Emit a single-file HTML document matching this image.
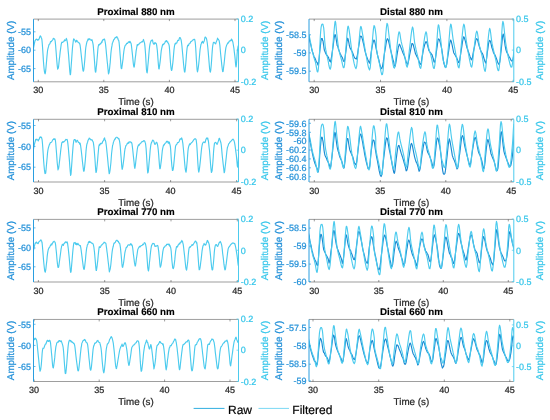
<!DOCTYPE html>
<html><head><meta charset="utf-8"><title>Figure</title>
<style>
html,body{margin:0;padding:0;background:#fff;}
svg{display:block;}
text{text-rendering:geometricPrecision;font-family:"Liberation Sans",Arial,Helvetica,sans-serif;stroke-width:0.22px;paint-order:stroke;}
.t{font-size:9px;}
.l{font-size:9.8px;}
.ti{font-size:9.75px;font-weight:bold;fill:#000;stroke:#000;stroke-width:0.15px;}
.lg{font-size:12px;fill:#000;stroke:#000;stroke-width:0.2px;}
</style></head>
<body>
<svg width="550" height="420" viewBox="0 0 550 420">
<rect width="550" height="420" fill="#fff"/>
<clipPath id="c00"><rect x="33.5" y="19.1" width="205" height="62.7"/></clipPath>
<g clip-path="url(#c00)" fill="none" stroke-width="1.15" stroke-linejoin="round"><polyline points="33.3,49.03 33.59,47.76 34.02,45.4 34.48,43.13 34.9,41.19 35.23,40.33 35.53,40.09 35.84,39.35 36.2,39.39 36.63,39.16 37.11,39.76 37.61,40.19 38.1,39.49 38.59,39.96 39.09,38.84 39.57,37.84 40,36.22 40.38,35.91 40.71,36.39 41.02,36.86 41.3,37.71 41.54,38.13 41.73,38.89 41.94,39.94 42.2,42.75 42.56,47.58 42.98,53.85 43.4,60.78 43.8,65.71 44.15,69.41 44.47,71.68 44.78,73.2 45.1,73.79 45.43,72.56 45.76,69.94 46.08,66.43 46.4,63.02 46.69,59.75 46.96,56.38 47.25,53.45 47.6,50.17 48.02,48.35 48.5,46.71 49,44.63 49.5,44.02 50,43.66 50.5,41.63 51,41.9 51.5,41.46 51.99,40.45 52.48,40.21 52.96,39.3 53.4,38.24 53.81,39 54.21,38.75 54.57,38.98 54.9,39.89 55.18,41.18 55.41,43.33 55.64,45.77 55.9,49.21 56.21,52.95 56.56,57.67 56.9,62.01 57.2,65.38 57.45,67.42 57.67,69.18 57.88,68.15 58.1,68.34 58.34,67.93 58.58,66.53 58.83,64.23 59.1,61.38 59.41,58.64 59.74,56.22 60.07,52.93 60.4,50.15 60.69,48.29 60.96,46.2 61.25,44.13 61.6,42.8 62.02,42.15 62.5,42.51 63,41.97 63.5,41.73 64,41.31 64.52,39.87 65.03,40.73 65.5,40.34 65.93,39.86 66.33,38.42 66.72,39.33 67.1,41.01 67.48,43.04 67.85,46.98 68.22,51.39 68.6,55.27 69.01,60.86 69.43,66.57 69.84,71.58 70.2,74.66 70.49,74.58 70.72,72.37 70.94,69.29 71.2,65.49 71.51,61.49 71.84,56.83 72.18,51.8 72.5,47.63 72.79,45.02 73.06,42.79 73.35,40.48 73.7,38.85 74.14,39.28 74.64,39.97 75.15,40.82 75.6,42.19 75.95,41.01 76.25,41.7 76.55,40.24 76.9,40.44 77.35,41.35 77.85,42.03 78.35,42.47 78.8,42.85 79.15,43.04 79.45,43.15 79.75,43.83 80.1,45.26 80.55,48.67 81.05,53.23 81.55,57.83 82,61.96 82.37,65.22 82.69,68.62 83,70.53 83.3,71.24 83.6,70.65 83.9,68.8 84.2,66.27 84.5,63.04 84.82,59.62 85.14,55.64 85.47,50.65 85.8,47.53 86.12,45.58 86.43,43.99 86.75,42.7 87.1,41.35 87.46,40.7 87.84,39.73 88.25,38.78 88.7,39.9 89.21,38.91 89.78,38.88 90.36,39.61 90.9,40.1 91.41,40.48 91.91,39.59 92.37,41.16 92.8,42.96 93.17,44.85 93.49,48.21 93.79,51.97 94.1,55.64 94.43,60.15 94.76,64.75 95.08,69.4 95.4,71.83 95.7,72.2 95.98,70.58 96.27,67.05 96.6,64.61 96.98,60.02 97.4,55.22 97.82,49.78 98.2,46.55 98.52,45.4 98.79,44.48 99.07,44.79 99.4,44.94 99.79,44.2 100.22,43.65 100.67,43.87 101.1,43.13 101.52,41.96 101.95,42.49 102.35,40.27 102.7,40.57 102.96,39.66 103.16,39.46 103.35,39.53 103.6,39.31 103.94,39.62 104.32,38.96 104.72,39.71 105.1,41.66 105.43,43.41 105.75,46.18 106.07,49.27 106.4,53.15 106.78,56.83 107.18,61.23 107.57,64.81 107.9,68.2 108.14,70.26 108.32,72.39 108.49,73.89 108.7,73 108.97,72.87 109.27,70.95 109.58,68.31 109.9,65.23 110.21,62.4 110.53,58.02 110.86,53.77 111.2,50.49 111.57,47.82 111.95,45.9 112.33,43.3 112.7,42.48 113.02,41.62 113.33,41.04 113.64,39.93 114,39.2 114.43,39.17 114.91,38.02 115.41,37.37 115.9,37.69 116.39,37 116.89,36.6 117.37,38.03 117.8,38.14 118.17,39.78 118.49,40.07 118.79,40.73 119.1,42.7 119.43,45.97 119.77,49.93 120.1,54.45 120.4,57.99 120.66,61.6 120.9,65.07 121.14,67.91 121.4,68.52 121.7,68.68 122.02,66.32 122.35,64.11 122.7,61.37 123.05,59.06 123.41,55.07 123.79,51.87 124.2,49.04 124.65,47.19 125.12,45.61 125.62,44.92 126.1,44.75 126.57,43.41 127.05,43.32 127.52,43.36 128,42.61 128.49,41.86 128.99,41.93 129.47,42.59 129.9,41.3 130.27,41.89 130.59,42.7 130.89,43.04 131.2,44 131.52,46.36 131.84,49.15 132.16,52.12 132.5,55.18 132.87,58.84 133.25,63.02 133.63,65.82 134,67.17 134.33,66.51 134.64,63.92 134.96,60.99 135.3,57.73 135.69,55.11 136.1,51.17 136.51,48.79 136.9,46.28 137.23,44.61 137.53,45.69 137.84,45.33 138.2,44.37 138.63,44.36 139.11,44.12 139.61,43.09 140.1,43.05 140.57,42.63 141.05,42.29 141.53,41.88 142,42.09 142.49,41.36 142.99,40.77 143.47,39.43 143.9,41.11 144.26,42.26 144.57,43.37 144.87,45.65 145.2,49.41 145.59,54.44 146,62.03 146.41,69.17 146.8,72.16 147.14,72.87 147.46,70.7 147.77,66.72 148.1,63.21 148.47,59.34 148.85,54.35 149.23,49.98 149.6,46.57 149.94,44.6 150.26,43.03 150.58,42.14 150.9,41.12 151.21,40.65 151.51,40.7 151.83,40.13 152.2,39.86 152.63,40.6 153.11,43.08 153.61,43.76 154.1,44.3 154.59,42.76 155.09,43.37 155.57,42.74 156,43.29 156.36,43.88 156.68,45.34 156.98,47.67 157.3,50.05 157.67,54.87 158.05,60.24 158.43,65.06 158.8,68.79 159.13,69.01 159.44,66.67 159.76,64.35 160.1,61.86 160.47,58.63 160.86,54.56 161.27,50.52 161.7,48.48 162.15,46.5 162.63,44.67 163.12,44.06 163.6,44.68 164.07,43.61 164.54,43.24 165.02,42.24 165.5,41.07 166.03,41.56 166.59,40.61 167.1,41.53 167.5,42.07 167.71,42.42 167.79,41.92 167.85,42.28 168,42.89 168.27,43.28 168.61,43.83 168.96,44.63 169.3,46.44 169.61,50.09 169.91,54.58 170.21,59.16 170.5,62.98 170.78,65.94 171.05,68.27 171.32,69.97 171.6,70.5 171.88,69.95 172.17,68.27 172.47,65.67 172.8,63.18 173.16,59.47 173.56,54.61 173.97,49.87 174.4,46.64 174.85,44.37 175.33,43.2 175.82,43.85 176.3,43.02 176.78,43.03 177.25,41.64 177.72,40.37 178.2,40.39 178.69,40.55 179.19,38.81 179.67,37.55 180.1,37.55 180.47,38.36 180.79,38.97 181.1,39.95 181.4,41.85 181.69,43.77 181.96,46.23 182.25,49.44 182.6,53.21 183.04,57.97 183.54,63.92 184.05,68.74 184.5,71.93 184.87,72.07 185.19,69.64 185.49,66.64 185.8,63.21 186.11,59.6 186.41,55.1 186.73,51.52 187.1,48.18 187.53,45.91 188.01,45.1 188.51,45.66 189,43.86 189.44,43.8 189.87,43.45 190.33,42.62 190.9,41.61 191.65,41.28 192.54,40.22 193.4,39.68 194.1,39.25 194.56,39.27 194.87,40.28 195.13,41.66 195.4,44.04 195.71,48.04 196.03,53.28 196.32,58.82 196.6,62.93 196.84,66.36 197.04,69.3 197.25,70.76 197.5,71.85 197.79,70.7 198.1,68.99 198.44,66.41 198.8,63.21 199.2,59.2 199.63,54.47 200.07,49.65 200.5,47.02 200.91,44.6 201.31,43.66 201.71,42.19 202.1,42.01 202.48,41.24 202.85,42.76 203.22,43.26 203.6,42.01 203.99,41.7 204.39,40.4 204.8,38.05 205.2,37.02 205.61,37.31 206.02,37.87 206.42,38.44 206.8,40.21 207.13,41.99 207.43,44.23 207.74,47.01 208.1,50.67 208.55,55.88 209.05,62.08 209.55,68.27 210,71.54 210.37,72.07 210.69,70.57 211,67.62 211.3,64.49 211.6,60.39 211.9,55.8 212.2,51.39 212.5,47.75 212.8,45.34 213.11,43.77 213.43,42.43 213.8,42.44 214.23,42.35 214.71,42.98 215.21,43.52 215.7,43.93 216.17,42.12 216.65,41.01 217.12,39.73 217.6,38.17 218.09,39.1 218.59,39.73 219.07,40.48 219.5,42.64 219.85,45.13 220.15,48.43 220.45,51.99 220.8,55.49 221.25,59.62 221.75,64.66 222.25,68.94 222.7,71.75 223.05,71.57 223.35,69.77 223.65,67.06 224,64.32 224.42,60.52 224.87,55.79 225.36,51.38 225.9,47.64 226.5,45.56 227.16,44.24 227.84,42.83 228.5,43.07 229.15,41.13 229.79,41.18 230.42,40.38 231,40.75 231.52,38.97 231.99,39.87 232.44,40.81 232.9,42.27 233.39,45.26 233.89,48.28 234.37,52.31 234.8,55.65 235.17,59.31 235.49,63.17 235.79,66 236.1,67.02 236.43,64.31 236.76,59.87 237.09,54.22 237.4,50.46 237.71,48.77 238.03,46.6 238.31,45.72 238.5,45" stroke="#4ccbee"/></g>
<path d="M33.5 19.1H238.5M33.5 81.8H238.5" stroke="#262626" stroke-width="0.6" fill="none" opacity="0.75"/>
<path d="M38.3 81.8v-2.0M38.3 19.1v2.0M103.8 81.8v-2.0M103.8 19.1v2.0M169.4 81.8v-2.0M169.4 19.1v2.0M235 81.8v-2.0M235 19.1v2.0" stroke="#262626" stroke-width="0.6" fill="none" opacity="0.75"/>
<path d="M33.5 19.1V81.8" stroke="#2a9ee0" stroke-width="1" fill="none"/>
<path d="M33.5 31.8h2.0M33.5 50.2h2.0M33.5 68.6h2.0" stroke="#2a9ee0" stroke-width="0.7" fill="none"/>
<path d="M238.5 19.1V81.8" stroke="#4ccbee" stroke-width="1" fill="none"/>
<path d="M238.5 18.8h-2.0M238.5 50.1h-2.0M238.5 81.4h-2.0" stroke="#4ccbee" stroke-width="0.7" fill="none"/>
<text x="38.3" y="93.3" text-anchor="middle" class="t" fill="#262626" stroke="#262626">30</text>
<text x="103.8" y="93.3" text-anchor="middle" class="t" fill="#262626" stroke="#262626">35</text>
<text x="169.4" y="93.3" text-anchor="middle" class="t" fill="#262626" stroke="#262626">40</text>
<text x="235" y="93.3" text-anchor="middle" class="t" fill="#262626" stroke="#262626">45</text>
<text x="31" y="35" text-anchor="end" class="t" fill="#2290d8" stroke="#2290d8">-55</text>
<text x="31" y="53.4" text-anchor="end" class="t" fill="#2290d8" stroke="#2290d8">-60</text>
<text x="31" y="71.8" text-anchor="end" class="t" fill="#2290d8" stroke="#2290d8">-65</text>
<text x="240.7" y="22" class="t" fill="#36c6ea" stroke="#36c6ea">0.2</text>
<text x="240.7" y="53.3" class="t" fill="#36c6ea" stroke="#36c6ea">0</text>
<text x="240.7" y="84.6" class="t" fill="#36c6ea" stroke="#36c6ea">-0.2</text>
<text x="136" y="15.1" text-anchor="middle" class="ti">Proximal 880 nm</text>
<text x="136" y="105.3" text-anchor="middle" class="l" fill="#262626" stroke="#262626">Time (s)</text>
<text transform="translate(14.3,50.45) rotate(-90)" text-anchor="middle" class="l" fill="#2290d8" stroke="#2290d8">Amplitude (V)</text>
<text transform="translate(268,50.45) rotate(-90)" text-anchor="middle" class="l" fill="#36c6ea" stroke="#36c6ea">Amplitude (V)</text>
<clipPath id="c10"><rect x="33.5" y="119.3" width="205" height="62.7"/></clipPath>
<g clip-path="url(#c10)" fill="none" stroke-width="1.15" stroke-linejoin="round"><polyline points="33.47,149.53 33.76,147.72 34.19,145.33 34.66,143.41 35.08,141.8 35.41,140.76 35.71,139.43 36.02,140.05 36.39,139.79 36.82,139.16 37.3,139.8 37.81,139.99 38.3,140.9 38.79,139.45 39.29,139 39.78,137.54 40.21,136.78 40.59,137.24 40.93,137.47 41.24,137.14 41.52,137.45 41.76,138.52 41.95,138.84 42.16,140.23 42.43,143.05 42.79,147.79 43.21,153.97 43.64,160.97 44.04,165.7 44.39,169.42 44.71,171.78 45.03,173.59 45.35,173.45 45.68,173.08 46.01,170.18 46.34,166.24 46.66,162.91 46.95,159.73 47.22,156.79 47.51,153.17 47.86,150.48 48.29,148.26 48.77,146.62 49.28,144.88 49.78,144.11 50.28,142.59 50.78,142.58 51.29,142.27 51.79,141.79 52.29,140.79 52.78,139.73 53.26,139.5 53.7,138.78 54.12,139.45 54.52,138.89 54.88,138.7 55.21,139.47 55.49,141.06 55.73,143.24 55.96,146.04 56.22,149.25 56.54,153.24 56.88,157.95 57.22,162.75 57.53,165.54 57.78,167.68 58,169.88 58.21,168.32 58.44,168.74 58.67,168.01 58.91,166.35 59.17,164.29 59.44,161.85 59.75,159.35 60.08,156.25 60.42,153.37 60.75,150.07 61.04,147.96 61.32,146.01 61.61,143.86 61.96,142.39 62.39,142.34 62.87,141.5 63.37,142.08 63.87,141.93 64.38,141.3 64.9,140.89 65.41,140.18 65.89,139.36 66.32,139.71 66.72,139.64 67.11,139.47 67.5,140.88 67.88,143.66 68.25,146.96 68.63,151.42 69.01,155.92 69.42,160.61 69.84,166.6 70.26,171.68 70.62,175.35 70.91,174.61 71.14,172.59 71.37,169.09 71.63,165.7 71.93,161.65 72.27,156.48 72.61,152.15 72.93,148.08 73.23,144.54 73.5,142.71 73.79,140.68 74.14,139.81 74.59,139.59 75.09,139.54 75.6,140.96 76.06,142.33 76.41,141.3 76.71,140.81 77.01,140.29 77.36,140.34 77.81,141.32 78.32,142.37 78.83,142.39 79.28,142.91 79.63,144.13 79.93,142.99 80.23,143.56 80.59,145.53 81.04,148.83 81.54,153 82.05,157.68 82.5,161.96 82.87,165.26 83.2,167.94 83.5,170.45 83.81,171.29 84.12,170.96 84.41,168.88 84.71,166.17 85.02,163.13 85.34,159.84 85.67,155.67 86,151.18 86.33,148.1 86.65,145.4 86.96,143.99 87.29,142.97 87.64,142.13 88,140.41 88.38,139.68 88.79,139.2 89.25,138.06 89.76,138.86 90.33,138.92 90.91,139.92 91.46,139.78 91.97,139.69 92.47,140.86 92.95,141.52 93.37,142.66 93.74,145.37 94.07,148.28 94.37,151.79 94.68,155.68 95.01,159.79 95.34,165.01 95.67,169.58 95.99,172.52 96.29,172.09 96.58,170.51 96.87,167.56 97.2,164.56 97.58,160.67 98.01,155.07 98.43,150.68 98.81,146.42 99.13,145.01 99.41,144.73 99.69,145.29 100.02,144.17 100.41,143.33 100.85,144.05 101.3,143.65 101.73,143.06 102.16,143.24 102.59,141.58 102.99,140.94 103.34,140.67 103.6,140.01 103.8,140.21 104,138.67 104.25,139.12 104.59,137.86 104.98,140 105.38,140.18 105.76,141.84 106.1,144.19 106.41,146.49 106.73,149.61 107.07,152.9 107.45,156.63 107.85,160.92 108.25,165.23 108.58,168.31 108.82,170.61 109,172.24 109.17,173.68 109.38,173.57 109.65,172.51 109.96,170.98 110.27,168.42 110.59,165.48 110.91,162.51 111.23,158.22 111.56,153.8 111.9,150.76 112.27,147.9 112.66,145.11 113.04,144.21 113.41,142.31 113.74,141.49 114.04,140.62 114.35,140.05 114.72,138.98 115.16,139.25 115.64,138.08 116.14,137.28 116.63,137.27 117.13,137.26 117.63,137.94 118.11,138.14 118.55,138.99 118.92,138.68 119.24,139.92 119.54,141.18 119.85,143.08 120.19,145.86 120.53,149.99 120.86,154.6 121.16,158.04 121.43,161.65 121.67,165.21 121.9,167.57 122.17,169.42 122.47,168.34 122.79,166.92 123.13,164.45 123.48,161.93 123.83,159.18 124.2,155.94 124.58,151.81 124.99,149.02 125.44,147.48 125.92,145.53 126.42,145.13 126.9,144.34 127.38,143.37 127.86,143.42 128.34,142.25 128.82,143.15 129.31,141.82 129.81,141.97 130.29,141.88 130.73,142.01 131.1,142.68 131.42,142.43 131.72,142.77 132.04,144.23 132.36,146.62 132.68,149.22 133.01,152.54 133.35,155.86 133.71,159.12 134.1,162.63 134.49,166.87 134.86,168.41 135.19,166.33 135.51,164.31 135.82,161.21 136.17,158.32 136.55,155.28 136.97,151.77 137.39,148.51 137.78,146.64 138.11,146.09 138.41,144.93 138.72,145.07 139.09,145.39 139.52,144.02 140,143.99 140.51,143.2 141,143 141.48,142.07 141.96,141.67 142.43,141.65 142.91,141.58 143.4,140.89 143.91,140.66 144.39,140.75 144.82,141.31 145.19,142.47 145.5,143.36 145.8,145.76 146.13,148.81 146.52,155.04 146.94,161.96 147.36,168.78 147.74,172.95 148.09,172.49 148.41,170.54 148.72,166.84 149.05,162.85 149.42,159.33 149.81,154.84 150.2,149.72 150.56,146.81 150.91,144.51 151.23,143.31 151.55,142.48 151.87,142.09 152.19,140.81 152.49,140.8 152.81,139.98 153.18,140.59 153.62,140.71 154.1,142.16 154.6,144.1 155.09,144.31 155.59,143.86 156.09,142.72 156.57,142.24 157.01,142.87 157.37,144.12 157.69,145.56 157.99,147.77 158.32,150.49 158.69,155.02 159.07,160.22 159.46,165.19 159.83,168.69 160.16,168.6 160.48,167.02 160.79,164.47 161.14,161.84 161.51,158.82 161.9,154.81 162.32,150.56 162.75,148.04 163.2,146.27 163.68,144.85 164.17,145.04 164.66,143.99 165.14,143.17 165.61,142.91 166.09,142.57 166.57,141.26 167.1,141.74 167.67,141.3 168.19,143.05 168.59,141.97 168.8,142.85 168.88,142.05 168.94,142.72 169.09,143.7 169.36,142.18 169.7,143.55 170.06,144.81 170.4,146.58 170.71,149.96 171.02,154.99 171.31,159.41 171.61,162.87 171.89,166.23 172.16,167.94 172.43,170.44 172.72,170.38 173,170.05 173.29,168.69 173.59,166.07 173.92,162.93 174.29,159.08 174.68,154.85 175.1,150.19 175.53,146.34 175.99,145.22 176.47,144.41 176.96,144.21 177.45,142.57 177.93,142.7 178.4,142.56 178.88,141.86 179.36,141.25 179.85,139.09 180.35,139.13 180.84,138.5 181.27,139.15 181.65,137.89 181.97,138.8 182.28,140.01 182.58,141.81 182.88,143.63 183.15,146.55 183.44,149.27 183.79,153.05 184.23,157.79 184.74,163.85 185.25,168.94 185.7,171.33 186.07,172.26 186.4,169.86 186.7,166.42 187.01,163.24 187.33,159.71 187.63,155.06 187.95,151.04 188.32,148.07 188.76,146.3 189.24,145.02 189.74,143.74 190.23,144.62 190.68,143.67 191.11,143.12 191.58,142.6 192.15,142.31 192.91,141.12 193.8,139.72 194.67,138.9 195.37,138.73 195.83,139.14 196.15,139.85 196.4,141.78 196.68,143.88 196.99,148.22 197.31,153.28 197.61,158.87 197.89,163.42 198.13,166.59 198.33,169.25 198.55,171.38 198.79,172.15 199.08,170.87 199.4,169.11 199.74,166.42 200.1,163.1 200.5,159.32 200.94,154.76 201.38,150.25 201.81,146.86 202.23,144.73 202.63,143.21 203.03,142.65 203.42,142.07 203.81,141.99 204.18,142.45 204.55,142.09 204.93,142.68 205.33,141.81 205.73,139.98 206.14,138.82 206.55,138.25 206.96,137.82 207.37,139.02 207.78,138.14 208.16,140.24 208.49,141.59 208.79,144.4 209.1,147.5 209.47,150.05 209.92,155.8 210.42,162.51 210.93,168.42 211.38,172.34 211.75,171.85 212.08,170.86 212.38,167.79 212.69,164.5 212.99,160.64 213.29,156.18 213.59,151.41 213.9,147.95 214.2,145.39 214.51,143.14 214.83,142.82 215.2,142.3 215.64,142.61 216.12,142.76 216.63,143.92 217.12,144.34 217.6,143.16 218.07,141.84 218.55,140.61 219.03,138.56 219.52,138.31 220.03,140.09 220.51,141.48 220.94,143.02 221.3,145.45 221.6,148.33 221.9,151.83 222.25,155.78 222.7,159.71 223.21,164.39 223.72,168.79 224.17,172.7 224.52,172.13 224.82,169.88 225.12,167.3 225.47,164.55 225.89,160.62 226.35,156.39 226.85,151.49 227.39,147.55 228,146.11 228.66,143.89 229.34,143.19 230.01,142.19 230.66,141.23 231.31,140.92 231.94,140.08 232.52,139.39 233.04,139.15 233.52,139.76 233.97,140.56 234.44,142.19 234.93,144.8 235.43,148.43 235.91,152.15 236.35,155.44 236.72,159.12 237.04,162.74 237.34,166.1 237.66,167.12 237.99,164.66 238.32,159.78 238.65,154.47 238.97,150.73 239.28,148.25 239.6,147.01 239.88,146 240.07,145.1" stroke="#4ccbee"/></g>
<path d="M33.5 119.3H238.5M33.5 182H238.5" stroke="#262626" stroke-width="0.6" fill="none" opacity="0.75"/>
<path d="M38.5 182v-2.0M38.5 119.3v2.0M104.6 182v-2.0M104.6 119.3v2.0M170.6 182v-2.0M170.6 119.3v2.0M236.6 182v-2.0M236.6 119.3v2.0" stroke="#262626" stroke-width="0.6" fill="none" opacity="0.75"/>
<path d="M33.5 119.3V182" stroke="#2a9ee0" stroke-width="1" fill="none"/>
<path d="M33.5 125.5h2.0M33.5 146.4h2.0M33.5 167.2h2.0" stroke="#2a9ee0" stroke-width="0.7" fill="none"/>
<path d="M238.5 119.3V182" stroke="#4ccbee" stroke-width="1" fill="none"/>
<path d="M238.5 118.9h-2.0M238.5 150.2h-2.0M238.5 181.5h-2.0" stroke="#4ccbee" stroke-width="0.7" fill="none"/>
<text x="38.5" y="193.5" text-anchor="middle" class="t" fill="#262626" stroke="#262626">30</text>
<text x="104.6" y="193.5" text-anchor="middle" class="t" fill="#262626" stroke="#262626">35</text>
<text x="170.6" y="193.5" text-anchor="middle" class="t" fill="#262626" stroke="#262626">40</text>
<text x="236.6" y="193.5" text-anchor="middle" class="t" fill="#262626" stroke="#262626">45</text>
<text x="31" y="128.7" text-anchor="end" class="t" fill="#2290d8" stroke="#2290d8">-55</text>
<text x="31" y="149.6" text-anchor="end" class="t" fill="#2290d8" stroke="#2290d8">-60</text>
<text x="31" y="170.4" text-anchor="end" class="t" fill="#2290d8" stroke="#2290d8">-65</text>
<text x="240.7" y="122.1" class="t" fill="#36c6ea" stroke="#36c6ea">0.2</text>
<text x="240.7" y="153.4" class="t" fill="#36c6ea" stroke="#36c6ea">0</text>
<text x="240.7" y="184.7" class="t" fill="#36c6ea" stroke="#36c6ea">-0.2</text>
<text x="136" y="115.3" text-anchor="middle" class="ti">Proximal 810 nm</text>
<text x="136" y="205.5" text-anchor="middle" class="l" fill="#262626" stroke="#262626">Time (s)</text>
<text transform="translate(14.3,150.65) rotate(-90)" text-anchor="middle" class="l" fill="#2290d8" stroke="#2290d8">Amplitude (V)</text>
<text transform="translate(268,150.65) rotate(-90)" text-anchor="middle" class="l" fill="#36c6ea" stroke="#36c6ea">Amplitude (V)</text>
<clipPath id="c20"><rect x="33.5" y="219.4" width="205" height="62.6"/></clipPath>
<g clip-path="url(#c20)" fill="none" stroke-width="1.15" stroke-linejoin="round"><polyline points="33.34,250.72 33.64,249.79 34.07,247.38 34.54,245.54 34.96,243.9 35.3,242.96 35.6,243.26 35.91,243.01 36.28,241.99 36.71,242.36 37.2,243.08 37.7,243.39 38.2,243.61 38.69,242.09 39.2,241.51 39.68,241.1 40.12,241.03 40.5,240.23 40.84,239.79 41.15,240.26 41.43,240.62 41.67,241.03 41.87,242.27 42.08,242.83 42.34,245.21 42.71,249.67 43.13,254.98 43.56,260.39 43.96,264.54 44.31,267.79 44.64,270.48 44.96,271.67 45.28,272.15 45.61,270.64 45.94,268.37 46.27,265.3 46.59,262.64 46.89,260.09 47.16,256.62 47.46,254.1 47.81,251.83 48.23,249.74 48.72,248.38 49.22,247.62 49.73,247.13 50.23,245.83 50.74,245.2 51.25,243.97 51.75,245 52.25,243.61 52.74,242.91 53.22,241.84 53.67,241.95 54.09,241.22 54.49,241.62 54.86,241.94 55.19,242.5 55.47,243.92 55.71,245.55 55.94,248.3 56.2,250.52 56.52,253.68 56.87,257.97 57.21,261.67 57.52,264.42 57.77,266.24 57.99,267.4 58.2,267.07 58.43,267.35 58.67,266.99 58.91,265.36 59.16,263.36 59.44,261.48 59.75,259.18 60.08,256.63 60.42,254.22 60.75,251.73 61.05,249.17 61.32,247.93 61.62,246.09 61.97,245.48 62.39,244.29 62.88,244.45 63.38,245.38 63.89,243.72 64.4,243.32 64.92,242.76 65.43,241.9 65.91,241.96 66.35,242.76 66.75,242.05 67.14,241.87 67.53,243.2 67.91,245.95 68.29,248.72 68.66,252.36 69.05,256.15 69.46,260.67 69.89,265.79 70.3,270.04 70.66,272.31 70.95,272.24 71.19,270.73 71.42,267.92 71.68,264.62 71.99,261.32 72.32,257.13 72.66,252.95 72.99,249.44 73.29,246.69 73.56,244.82 73.85,242.9 74.21,243.07 74.65,242.58 75.16,242.45 75.67,244.33 76.13,244.63 76.48,243.3 76.78,244.71 77.08,244.04 77.44,244.55 77.89,243.28 78.4,244.46 78.91,244.89 79.36,245.3 79.72,245.53 80.02,245.96 80.32,245.55 80.68,247.1 81.13,249.91 81.64,253.93 82.15,257.93 82.6,261.53 82.97,264.31 83.3,266.85 83.61,268.53 83.91,269.43 84.22,269.31 84.52,267.58 84.82,265.11 85.13,262.48 85.45,259.83 85.78,255.83 86.11,252.54 86.44,249.85 86.77,247.52 87.08,246.48 87.41,244.74 87.76,244.56 88.13,243.38 88.51,241.92 88.92,242.39 89.38,241.37 89.9,242.44 90.47,241.86 91.05,242.55 91.6,243.22 92.12,243.19 92.62,243.66 93.09,243.85 93.52,245.39 93.89,247.24 94.22,249.95 94.52,252.39 94.84,256.3 95.17,259.86 95.5,263.86 95.83,268 96.15,270.35 96.45,270.45 96.74,268.47 97.04,266.71 97.37,263.62 97.75,260.62 98.18,255.72 98.6,251.65 98.99,248.33 99.31,246.6 99.59,247.3 99.87,247.35 100.2,247.5 100.6,246.81 101.03,245.8 101.48,244.93 101.92,244.94 102.35,244.4 102.78,243.76 103.18,243.78 103.54,243.22 103.8,242.61 104,242.48 104.19,242.15 104.45,242.34 104.79,242.69 105.18,242.95 105.59,242.85 105.96,243.77 106.3,246.33 106.62,248.37 106.94,251.29 107.28,253.52 107.66,257.03 108.07,260.72 108.46,263.84 108.8,266.77 109.04,269 109.22,270.59 109.39,271.84 109.61,270.91 109.88,270.09 110.18,269.16 110.5,267.24 110.82,264.72 111.14,261.51 111.46,258.4 111.79,254.9 112.13,251.9 112.5,249.33 112.89,247.65 113.28,246.25 113.65,244.5 113.98,243.07 114.28,243.43 114.6,243.13 114.97,242.5 115.4,242.23 115.89,240.94 116.39,240.59 116.89,240.22 117.38,240.73 117.89,241.52 118.37,241.27 118.81,242.85 119.18,243.08 119.5,243.17 119.81,243.85 120.12,245.62 120.46,247.83 120.8,251.32 121.13,254.8 121.44,258.3 121.71,261.37 121.95,264.1 122.18,266.38 122.45,267.31 122.75,267.14 123.08,265.29 123.42,263.9 123.77,261.35 124.12,258.69 124.49,255.77 124.87,252.79 125.28,250.93 125.73,249.43 126.22,247.34 126.71,247.4 127.2,246.7 127.69,245.53 128.17,244.81 128.65,245.01 129.13,244.91 129.62,245.15 130.13,244.61 130.61,243.66 131.05,244.81 131.42,244.03 131.74,245.24 132.05,244.88 132.36,246.13 132.69,247.98 133.01,250.55 133.33,253.72 133.68,256.28 134.05,259.17 134.44,262.38 134.83,264.5 135.19,266.09 135.53,265.46 135.85,263.29 136.16,260.9 136.51,258.03 136.9,255.51 137.32,252.62 137.74,249.71 138.13,248.66 138.46,248.22 138.77,247.54 139.08,247.09 139.44,246.26 139.88,247 140.37,246.83 140.87,245.84 141.36,245.63 141.85,245.54 142.33,245.13 142.81,244.18 143.29,244.66 143.78,244.17 144.29,242.66 144.77,243.02 145.21,243.08 145.57,244.48 145.88,245.98 146.19,247.56 146.52,250.29 146.91,255.59 147.33,261.64 147.75,267.62 148.14,269.99 148.49,270.99 148.81,269.14 149.12,266.07 149.46,262.51 149.83,259.27 150.21,255.22 150.6,251.64 150.97,248.73 151.32,246.64 151.64,244.99 151.96,245.09 152.29,244.01 152.6,243.85 152.91,243.29 153.23,243.76 153.6,243.56 154.04,243.52 154.53,244.83 155.03,246.46 155.52,246.06 156.02,246.35 156.52,246.07 157.01,245.65 157.45,245.4 157.81,245.71 158.13,247.14 158.43,249.39 158.76,251.83 159.13,255.87 159.52,259.91 159.91,264.63 160.28,267.23 160.61,266.6 160.93,265.65 161.25,263.78 161.59,261.33 161.97,258.69 162.36,255.46 162.78,251.85 163.21,249.7 163.67,247.85 164.15,247.08 164.65,247.07 165.13,246.08 165.61,245.76 166.09,245.71 166.57,244.52 167.06,244.12 167.59,244.49 168.16,244.11 168.68,245.02 169.08,244.09 169.29,245.06 169.38,244.58 169.44,244.59 169.58,245.95 169.86,245.21 170.2,246.63 170.56,247 170.9,248.74 171.21,251.22 171.52,255.5 171.82,259.59 172.11,262.52 172.4,264.94 172.67,267.67 172.94,268.41 173.23,268.67 173.51,268.15 173.8,267.08 174.1,265.05 174.44,262.59 174.81,259.64 175.2,255.2 175.62,251.46 176.06,248.93 176.52,246.54 177,246.87 177.49,246.99 177.98,245.23 178.46,244.76 178.94,244.24 179.42,243.37 179.9,243.78 180.4,242.12 180.9,242.24 181.38,242.04 181.82,240.39 182.2,241.22 182.52,241.24 182.83,243.06 183.14,244 183.43,245.93 183.71,248.22 184,250.96 184.35,253.81 184.8,258.04 185.31,262.96 185.82,267.61 186.27,269.55 186.64,270.04 186.97,267.75 187.27,265.28 187.59,262.94 187.9,259.47 188.21,255.54 188.53,252.3 188.9,249.23 189.34,247.35 189.83,246.89 190.33,247.1 190.82,246.48 191.27,245.78 191.7,245.06 192.17,244.66 192.75,245.29 193.51,244.04 194.4,242.55 195.28,241.18 195.98,241.36 196.45,243.23 196.77,242.63 197.02,244.21 197.3,246.36 197.62,249.72 197.93,254.19 198.23,258.59 198.51,262.36 198.75,265.71 198.96,267.65 199.17,269.8 199.42,269.49 199.71,269.37 200.03,267.75 200.37,265.5 200.74,262.3 201.14,259.37 201.58,255.34 202.02,251.21 202.46,248.59 202.87,246.35 203.28,245.33 203.68,245.08 204.07,243.38 204.46,244.59 204.83,244.53 205.21,244.6 205.59,245.05 205.99,244.63 206.39,242.94 206.8,242.34 207.21,240.57 207.62,240.44 208.04,241.93 208.44,242.12 208.83,243.37 209.16,244.34 209.47,246.58 209.78,248.81 210.14,251.89 210.59,256.25 211.1,262.12 211.61,266.88 212.06,269.69 212.44,269.99 212.77,269.17 213.07,266.23 213.38,263.45 213.69,260.29 213.99,256.42 214.28,252.34 214.59,249.47 214.9,247.34 215.21,245.94 215.53,244.85 215.91,244.72 216.35,244.6 216.83,245.52 217.34,246.3 217.83,246.45 218.31,244.71 218.79,243.86 219.27,242.34 219.75,242.36 220.25,241.4 220.75,242.37 221.24,243.59 221.67,245.12 222.03,247.54 222.33,249.92 222.63,253.22 222.99,255.76 223.44,259.33 223.95,264.19 224.46,267.66 224.91,269.84 225.27,269.71 225.57,268.47 225.87,265.88 226.22,263.88 226.65,260.37 227.1,256.76 227.6,252.64 228.15,248.88 228.76,247.11 229.42,246.81 230.11,245.41 230.78,244.53 231.43,244.1 232.08,243.29 232.72,242.92 233.3,243.14 233.83,243.1 234.3,243.74 234.76,243.55 235.23,245.26 235.72,247.38 236.23,250.32 236.71,253.4 237.15,256.12 237.52,259.21 237.84,262.49 238.15,264.79 238.46,265.76 238.8,263.61 239.13,259.93 239.46,255.26 239.78,251.64 240.1,249.23 240.42,248.56 240.89,247.16" stroke="#4ccbee"/></g>
<path d="M33.5 219.4H238.5M33.5 282H238.5" stroke="#262626" stroke-width="0.6" fill="none" opacity="0.75"/>
<path d="M38.4 282v-2.0M38.4 219.4v2.0M104.7 282v-2.0M104.7 219.4v2.0M171 282v-2.0M171 219.4v2.0M237.3 282v-2.0M237.3 219.4v2.0" stroke="#262626" stroke-width="0.6" fill="none" opacity="0.75"/>
<path d="M33.5 219.4V282" stroke="#2a9ee0" stroke-width="1" fill="none"/>
<path d="M33.5 227.9h2.0M33.5 248h2.0M33.5 266.8h2.0" stroke="#2a9ee0" stroke-width="0.7" fill="none"/>
<path d="M238.5 219.4V282" stroke="#4ccbee" stroke-width="1" fill="none"/>
<path d="M238.5 219h-2.0M238.5 250.3h-2.0M238.5 281.6h-2.0" stroke="#4ccbee" stroke-width="0.7" fill="none"/>
<text x="38.4" y="293.5" text-anchor="middle" class="t" fill="#262626" stroke="#262626">30</text>
<text x="104.7" y="293.5" text-anchor="middle" class="t" fill="#262626" stroke="#262626">35</text>
<text x="171" y="293.5" text-anchor="middle" class="t" fill="#262626" stroke="#262626">40</text>
<text x="237.3" y="293.5" text-anchor="middle" class="t" fill="#262626" stroke="#262626">45</text>
<text x="31" y="231.1" text-anchor="end" class="t" fill="#2290d8" stroke="#2290d8">-55</text>
<text x="31" y="251.2" text-anchor="end" class="t" fill="#2290d8" stroke="#2290d8">-60</text>
<text x="31" y="270" text-anchor="end" class="t" fill="#2290d8" stroke="#2290d8">-65</text>
<text x="240.7" y="222.2" class="t" fill="#36c6ea" stroke="#36c6ea">0.2</text>
<text x="240.7" y="253.5" class="t" fill="#36c6ea" stroke="#36c6ea">0</text>
<text x="240.7" y="284.8" class="t" fill="#36c6ea" stroke="#36c6ea">-0.2</text>
<text x="136" y="215.4" text-anchor="middle" class="ti">Proximal 770 nm</text>
<text x="136" y="305.5" text-anchor="middle" class="l" fill="#262626" stroke="#262626">Time (s)</text>
<text transform="translate(14.3,250.7) rotate(-90)" text-anchor="middle" class="l" fill="#2290d8" stroke="#2290d8">Amplitude (V)</text>
<text transform="translate(268,250.7) rotate(-90)" text-anchor="middle" class="l" fill="#36c6ea" stroke="#36c6ea">Amplitude (V)</text>
<clipPath id="c30"><rect x="33.5" y="319.45" width="205" height="62.05"/></clipPath>
<g clip-path="url(#c30)" fill="none" stroke-width="1.15" stroke-linejoin="round"><polyline points="33.3,338.8 33.32,338.48 33.33,338.45 33.41,337.89 33.6,339.16 33.98,338.67 34.49,339.62 35.03,338.18 35.5,338.23 35.86,339.18 36.17,339.03 36.47,339.9 36.8,341.41 37.16,344.09 37.52,348.05 37.91,351.87 38.3,355.84 38.72,359.65 39.16,364.38 39.6,368.15 40,371.16 40.36,370.4 40.68,369.51 40.99,367.26 41.3,364.67 41.59,361.06 41.86,357.43 42.15,353.21 42.5,350.16 42.95,348.2 43.46,348.35 43.99,347.95 44.5,346.28 44.98,345.09 45.46,344.01 45.93,343.97 46.4,342.52 46.88,341.27 47.35,340.29 47.82,340.59 48.3,341.36 48.79,341.46 49.29,340.23 49.77,340.27 50.2,341.36 50.56,343.11 50.88,346.48 51.18,349.33 51.5,353.1 51.86,356.62 52.24,361.33 52.63,365.72 53,367.54 53.35,368 53.7,366.01 54.05,363.07 54.4,360.63 54.76,357.4 55.12,352.93 55.49,349.91 55.9,346.65 56.35,344.91 56.83,342.71 57.32,342.4 57.8,341.95 58.27,342.17 58.75,340.76 59.23,341.04 59.7,340.5 60.18,341.33 60.67,341.57 61.15,340.85 61.6,341.87 62.03,343.07 62.43,344.37 62.82,345.58 63.2,347.74 63.58,351.43 63.94,356.39 64.29,361.42 64.6,365.63 64.85,368.75 65.06,371.81 65.27,373.4 65.5,373.55 65.78,373.31 66.08,370.9 66.39,367.71 66.7,364.27 67.02,360.24 67.34,355.81 67.67,351.65 68,347.63 68.31,344.74 68.61,342.94 68.93,341.35 69.3,340.47 69.73,340.19 70.21,340.89 70.71,340.61 71.2,341.95 71.68,341.32 72.17,342.34 72.65,342.38 73.1,342.81 73.52,343.43 73.92,343.19 74.31,344.17 74.7,345.51 75.09,348.09 75.48,351.64 75.88,355.55 76.3,359.18 76.77,362.73 77.27,366.34 77.76,370.24 78.2,370.98 78.56,370.52 78.87,368.38 79.17,365.83 79.5,363.03 79.88,359.64 80.29,355.16 80.7,351.53 81.1,347.65 81.49,345.8 81.87,343 82.24,342.51 82.6,341.6 82.92,340.84 83.22,340.66 83.54,340.36 83.9,340.28 84.33,339.41 84.81,340.21 85.31,339.94 85.8,341.77 86.29,342.2 86.79,342.61 87.27,343.4 87.7,345.16 88.06,348.21 88.38,351.42 88.68,354.62 89,358.26 89.37,361.29 89.75,365.08 90.13,368.64 90.5,370.1 90.83,370.11 91.14,368.66 91.45,366.73 91.8,362.97 92.18,359.31 92.57,354.63 93.01,349.96 93.5,346.81 94.08,345.32 94.74,343.08 95.4,343.24 96,342.59 96.52,342.3 96.99,341.03 97.44,340.65 97.9,340.39 98.38,341.88 98.88,342.02 99.35,342.52 99.8,342.58 100.21,344.51 100.59,345.93 100.96,347.69 101.3,350.22 101.62,353.66 101.91,357.42 102.2,361.14 102.5,364.51 102.82,367.14 103.14,369.99 103.47,371.95 103.8,372.79 104.12,371.59 104.45,369.29 104.77,366.27 105.1,362.98 105.41,359.8 105.71,355.26 106.03,351.14 106.4,348.48 106.85,346.25 107.36,343.84 107.86,343.82 108.3,343.01 108.64,342.63 108.91,341.84 109.18,341.11 109.5,339.76 109.89,338.98 110.33,338.35 110.78,337.59 111.2,336.53 111.59,337.06 111.97,337.7 112.34,338.87 112.7,340.3 113.03,341.8 113.35,343.6 113.67,346.57 114,349.42 114.37,352.72 114.77,357.26 115.16,361.33 115.5,364.56 115.78,366.56 116.01,367.46 116.24,368.6 116.5,368.53 116.79,366.91 117.09,365.7 117.43,363.4 117.8,360.99 118.23,358.56 118.71,355.49 119.21,352.53 119.7,350.21 120.17,348.37 120.65,347.26 121.13,346.09 121.6,345.61 122.08,344.03 122.57,346.23 123.05,346.48 123.5,345.29 123.92,344.87 124.32,343.78 124.71,342.91 125.1,342.62 125.51,343.51 125.92,344.78 126.32,346.99 126.7,349.09 127.05,351.83 127.39,354.75 127.7,358.03 128,360.51 128.26,362.53 128.5,363.57 128.74,365.04 129,365.34 129.3,364.3 129.62,362.33 129.95,360.12 130.3,357.94 130.65,355.66 131.01,352.99 131.39,349.84 131.8,347.57 132.25,346.78 132.72,346.12 133.22,345.3 133.7,344.98 134.16,344.75 134.61,344.65 135.08,343.39 135.6,342.98 136.23,342.75 136.94,340.94 137.62,340.75 138.2,340.93 138.62,341.91 138.95,343.61 139.23,346.27 139.5,349.04 139.77,352.68 140.02,356.72 140.26,361.17 140.5,364.1 140.73,367.06 140.94,369.38 141.16,371.29 141.4,371.2 141.68,370.64 141.98,368.36 142.29,366 142.6,363.46 142.92,360.01 143.24,356.72 143.57,353.03 143.9,350.65 144.22,348.62 144.55,346.62 144.87,344.87 145.2,344.13 145.52,343.21 145.83,342.21 146.15,341.44 146.5,339.98 146.88,340.84 147.29,342.4 147.7,342.48 148.1,344.37 148.49,345.94 148.87,347.27 149.24,348.9 149.6,348.98 149.94,348.01 150.26,346.62 150.58,344.97 150.9,344.58 151.22,345.88 151.55,347.72 151.87,350.34 152.2,352.99 152.54,355.73 152.89,359.32 153.22,362.09 153.5,364.42 153.68,366.12 153.8,367.34 153.92,368.89 154.1,368.25 154.38,366.9 154.71,365.24 155.07,363.01 155.4,360.41 155.69,357.65 155.96,353.7 156.25,350.58 156.6,347.85 157.03,345.72 157.53,345.25 158.03,344.57 158.5,344.2 158.9,343.12 159.28,342.82 159.66,341.47 160.1,341.59 160.65,342.65 161.27,343.23 161.89,343.39 162.4,343.74 162.78,344.84 163.06,343.87 163.32,344.99 163.6,346.66 163.92,348.88 164.24,351.48 164.57,354.52 164.9,358.28 165.22,361.38 165.55,364.84 165.87,368.08 166.2,369.84 166.51,368.16 166.82,366.74 167.14,363.66 167.5,360.02 167.91,357.52 168.36,353.32 168.83,350.66 169.3,347.94 169.77,347.42 170.24,345.63 170.72,345.7 171.2,345.74 171.67,344.42 172.15,343.79 172.62,343.29 173.1,342.67 173.59,341.26 174.09,340.58 174.57,339.58 175,338.93 175.36,339.75 175.67,339.66 175.97,341.3 176.3,342.56 176.68,345.4 177.08,348 177.49,352.01 177.9,355.46 178.31,359.47 178.72,363.99 179.13,367.92 179.5,369.79 179.81,369.28 180.08,367.7 180.36,364.79 180.7,361.68 181.13,357.96 181.61,353.79 182.11,349.83 182.6,346.42 183.06,344.64 183.51,344.73 183.98,344.24 184.5,343.8 185.12,343.33 185.8,342.15 186.48,341.8 187.1,341.97 187.64,340.66 188.13,340.06 188.58,340.01 189,340.89 189.36,343.32 189.67,347.27 189.97,351.35 190.3,355.63 190.68,360.18 191.08,365.1 191.49,369.39 191.9,370.91 192.3,370.58 192.71,368.41 193.11,365.3 193.5,362.1 193.88,357.86 194.25,353.76 194.62,349.37 195,346.27 195.37,344.92 195.73,344.95 196.13,344.6 196.6,344.45 197.2,342.38 197.88,341.51 198.58,340.13 199.2,338.93 199.73,338.87 200.22,338.54 200.67,339.07 201.1,340.69 201.49,342.88 201.84,346.57 202.19,349.26 202.6,353.26 203.1,357.22 203.65,362.2 204.2,366.65 204.7,368.44 205.12,368.84 205.49,366.68 205.84,363.3 206.2,360.62 206.57,356.96 206.94,352.55 207.31,348.65 207.7,345.16 208.09,344.32 208.49,344.33 208.91,343.8 209.4,344.47 209.98,342.38 210.62,340.97 211.28,340.38 211.9,338.96 212.49,339.48 213.06,339.38 213.6,341.07 214.1,342.4 214.54,345.27 214.92,348.11 215.29,352.09 215.7,355.44 216.17,359.44 216.67,363.77 217.16,367.54 217.6,368.91 217.96,368.55 218.27,367.33 218.57,364.38 218.9,361.7 219.24,358.87 219.59,354.83 219.96,351.62 220.4,348.9 220.9,346.98 221.44,346.43 222.04,345.43 222.7,344.26 223.47,343.06 224.32,342.64 225.17,341.04 225.9,341.08 226.48,340.89 226.97,340.1 227.4,341.13 227.8,342.7 228.17,344.69 228.49,347.29 228.79,350.15 229.1,353.1 229.43,356.28 229.76,360.24 230.08,363.91 230.4,365.39 230.69,365.84 230.96,363.75 231.25,362.02 231.6,359.26 232.02,355.73 232.5,352.57 233,348.57 233.5,345.31 233.99,342.48 234.48,340.53 234.98,339.74 235.5,337.91 236.07,337.21 236.68,339.39 237.24,340.65 237.7,342.05 238.02,342.38 238.24,342.38 238.39,342.53 238.5,343" stroke="#4ccbee"/></g>
<path d="M33.5 319.45H238.5M33.5 381.5H238.5" stroke="#262626" stroke-width="0.6" fill="none" opacity="0.75"/>
<path d="M34.1 381.5v-2.0M34.1 319.45v2.0M99.2 381.5v-2.0M99.2 319.45v2.0M164.6 381.5v-2.0M164.6 319.45v2.0M230 381.5v-2.0M230 319.45v2.0" stroke="#262626" stroke-width="0.6" fill="none" opacity="0.75"/>
<path d="M33.5 319.45V381.5" stroke="#2a9ee0" stroke-width="1" fill="none"/>
<path d="M33.5 324.3h2.0M33.5 345.4h2.0M33.5 366.5h2.0" stroke="#2a9ee0" stroke-width="0.7" fill="none"/>
<path d="M238.5 319.45V381.5" stroke="#4ccbee" stroke-width="1" fill="none"/>
<path d="M238.5 319h-2.0M238.5 350.2h-2.0M238.5 381.4h-2.0" stroke="#4ccbee" stroke-width="0.7" fill="none"/>
<text x="34.1" y="393" text-anchor="middle" class="t" fill="#262626" stroke="#262626">30</text>
<text x="99.2" y="393" text-anchor="middle" class="t" fill="#262626" stroke="#262626">35</text>
<text x="164.6" y="393" text-anchor="middle" class="t" fill="#262626" stroke="#262626">40</text>
<text x="230" y="393" text-anchor="middle" class="t" fill="#262626" stroke="#262626">45</text>
<text x="31" y="327.5" text-anchor="end" class="t" fill="#2290d8" stroke="#2290d8">-55</text>
<text x="31" y="348.6" text-anchor="end" class="t" fill="#2290d8" stroke="#2290d8">-60</text>
<text x="31" y="369.7" text-anchor="end" class="t" fill="#2290d8" stroke="#2290d8">-65</text>
<text x="240.7" y="322.2" class="t" fill="#36c6ea" stroke="#36c6ea">0.2</text>
<text x="240.7" y="353.4" class="t" fill="#36c6ea" stroke="#36c6ea">0</text>
<text x="240.7" y="384.6" class="t" fill="#36c6ea" stroke="#36c6ea">-0.2</text>
<text x="136" y="315.45" text-anchor="middle" class="ti">Proximal 660 nm</text>
<text x="136" y="405" text-anchor="middle" class="l" fill="#262626" stroke="#262626">Time (s)</text>
<text transform="translate(14.3,350.48) rotate(-90)" text-anchor="middle" class="l" fill="#2290d8" stroke="#2290d8">Amplitude (V)</text>
<text transform="translate(268,350.48) rotate(-90)" text-anchor="middle" class="l" fill="#36c6ea" stroke="#36c6ea">Amplitude (V)</text>
<clipPath id="c01"><rect x="309" y="19.1" width="204.8" height="62.7"/></clipPath>
<g clip-path="url(#c01)" fill="none" stroke-width="1.15" stroke-linejoin="round"><polyline points="308.5,35.28 308.94,36.6 309.56,40.37 310.28,42.88 311,45.69 311.71,48.99 312.47,51.73 313.24,53.88 314,56.75 314.79,57.79 315.59,59.73 316.36,61.83 317,62.41 317.48,63.16 317.84,64.76 318.16,65.19 318.5,64 318.88,60.99 319.25,57.19 319.62,52.89 320,49.15 320.38,46.11 320.75,42.57 321.12,39.94 321.5,38.48 321.88,38.59 322.25,38.5 322.62,40.38 323,40.82 323.36,43.61 323.71,45.76 324.08,48.54 324.5,50.72 325,51.55 325.55,53.05 326.13,54.12 326.7,55.21 327.29,55.66 327.89,56.58 328.48,57.15 329,59.5 329.41,59.81 329.76,61.15 330.09,61.48 330.5,61.96 331,59.54 331.55,56.76 332.13,52.85 332.7,49 333.27,45.11 333.85,40.15 334.43,36.47 335,34.49 335.55,35.35 336.1,38.64 336.65,42.22 337.2,45.62 337.75,46.15 338.3,48.67 338.87,50.14 339.5,51.84 340.23,53.76 341.03,55.34 341.82,56.69 342.5,57.85 343.03,59.62 343.47,61.14 343.87,61.23 344.3,61.63 344.78,59.32 345.27,55.99 345.75,52.44 346.2,49.01 346.58,45.78 346.92,42.21 347.28,39.64 347.7,38.18 348.2,39.55 348.76,42.15 349.36,45.5 350,47.92 350.69,48.93 351.44,50.53 352.21,51.74 353,53.6 353.82,56.12 354.67,58.06 355.51,58.49 356.3,59.12 357.04,56.78 357.74,53.05 358.4,48.32 359,44.57 359.5,41.84 359.92,38.39 360.33,36.16 360.8,36.25 361.36,36.25 361.96,37.81 362.58,39.96 363.2,42.58 363.79,44.8 364.36,48.17 364.98,50.92 365.7,53.8 366.6,56.34 367.62,59.27 368.63,61.57 369.5,63.1 370.16,60.21 370.69,56.91 371.18,52.59 371.7,49.16 372.27,45.91 372.85,43.24 373.43,41.18 374,39.95 374.57,40.89 375.13,43.42 375.68,46.18 376.2,48.94 376.63,50.79 377.01,52.62 377.43,54.73 378,56.86 378.81,59.73 379.77,64.18 380.78,67.51 381.7,68.74 382.51,66.31 383.27,61.9 383.99,56.48 384.7,51.82 385.38,48.08 386.02,43.98 386.65,40.44 387.3,38.67 387.96,39.18 388.62,41.29 389.3,44.02 390,47.69 390.75,50.48 391.53,53.53 392.3,56.57 393,59.86 393.6,61.38 394.14,64.66 394.66,65.8 395.2,66.19 395.78,63.19 396.37,59.59 396.96,55.29 397.5,52.04 397.96,49.34 398.38,46.82 398.8,45.68 399.3,44.19 399.9,44.85 400.58,46.74 401.28,48.41 402,50.36 402.74,52.42 403.5,54.13 404.26,55.79 405,57.97 405.7,59.96 406.38,62.78 407.05,63.33 407.7,64.31 408.34,62 408.98,58.85 409.59,55.13 410.2,52.07 410.77,49.3 411.32,46.58 411.88,43.57 412.5,43.46 413.2,44.64 413.96,47.53 414.73,50.51 415.5,53.8 416.27,55.31 417.05,57 417.81,58.12 418.5,59.71 419.1,61.48 419.62,63.35 420.14,64.09 420.7,64.29 421.32,62.14 421.97,57.88 422.63,54.35 423.3,50.14 423.96,47.66 424.62,44.77 425.3,42.94 426,41.6 426.73,42.45 427.48,44.93 428.24,47.76 429,50.77 429.76,51.8 430.52,52.62 431.27,54.02 432,54.76 432.71,56.85 433.41,59.28 434.07,62.02 434.7,62.14 435.27,59.8 435.8,56.1 436.3,52.54 436.8,49.02 437.26,45.8 437.69,42.44 438.15,39.49 438.7,38.84 439.39,39.79 440.17,42.21 440.97,45.46 441.7,48.89 442.33,52.88 442.9,56.78 443.45,61 444,63.77 444.55,65.35 445.1,67.18 445.65,67.09 446.2,66.21 446.77,63.95 447.35,59.67 447.93,55.76 448.5,52.06 449.04,48.46 449.56,44.1 450.1,41.51 450.7,40.08 451.39,41.82 452.15,45.17 452.93,49.01 453.7,52.7 454.47,53.96 455.24,55.32 456,56.63 456.7,57.69 457.33,59.61 457.9,60.74 458.45,62.53 459,62.63 459.55,60.93 460.08,57.55 460.62,54.32 461.2,50.35 461.82,46.67 462.47,41.97 463.13,38.59 463.8,36.69 464.46,38.09 465.12,40.23 465.8,42.92 466.5,46.16 467.25,48.5 468.03,50.71 468.8,53.07 469.5,54.91 470.1,56.63 470.64,57.87 471.16,59.5 471.7,59.9 472.26,58.29 472.82,55.12 473.39,51.79 474,48.95 474.63,46.1 475.29,42.53 475.97,39.44 476.7,38.63 477.49,39.69 478.33,42.86 479.18,46.08 480,48.52 480.78,50.8 481.54,52.45 482.28,53.13 483,54.97 483.71,57.51 484.41,59.86 485.07,61.81 485.7,63.08 486.27,60.67 486.8,56.98 487.3,52.35 487.8,49.36 488.26,45.62 488.69,42.87 489.15,41.04 489.7,40.45 490.37,41.1 491.13,44.14 491.92,47.79 492.7,49.88 493.44,52.5 494.17,53.88 494.91,54.85 495.7,56.67 496.57,59.03 497.51,61.66 498.41,63.89 499.2,64.44 499.83,61.73 500.35,57.93 500.82,53.18 501.3,49.19 501.77,44.48 502.22,39.72 502.68,35.68 503.2,34.02 503.78,36.19 504.41,40.08 505.08,45.41 505.8,49.25 506.6,51.9 507.48,53.35 508.36,55.33 509.2,56.75 509.99,57.95 510.77,59.88 511.51,60.84 512.2,60.99 512.88,59.84 513.54,56.6 514.1,53.51 514.5,52" stroke="#1a8ad2"/><polyline points="308.5,34.68 308.63,34.97 308.81,34.96 309.09,35.54 309.5,37.06 310.11,40.13 310.88,44 311.7,48.31 312.5,51.91 313.27,55.03 314.05,57.76 314.81,60.21 315.5,62.28 316.12,65.63 316.69,69.07 317.22,71.6 317.7,72.01 318.12,70.6 318.49,67.43 318.84,63.04 319.2,57.96 319.57,51.63 319.95,44.08 320.32,36.55 320.7,31.12 321.07,27.63 321.45,25.72 321.82,24.47 322.2,24.09 322.57,24.18 322.95,24.36 323.32,26.02 323.7,27.89 324.06,31.57 324.4,36.49 324.77,41.63 325.2,46.07 325.71,49.4 326.27,52.4 326.88,55.17 327.5,57.94 328.17,61.14 328.88,65.26 329.58,68.14 330.2,69.22 330.71,67.87 331.16,64.98 331.57,60.92 332,56.49 332.46,51.41 332.92,45.15 333.37,39.19 333.8,33.92 334.2,29.5 334.57,25.52 334.93,22.23 335.3,21.19 335.67,22.5 336.02,25.93 336.4,29.97 336.8,33.86 337.24,37.78 337.7,41.71 338.19,45.59 338.7,49.12 339.23,51.55 339.78,53.78 340.37,55.86 341,58.05 341.73,60.98 342.53,64.71 343.32,67.65 344,67.66 344.54,65.14 344.99,59.95 345.4,54.38 345.8,48.98 346.21,44.15 346.61,39.11 346.97,34.51 347.3,30.9 347.55,28.54 347.75,27.14 347.95,26.42 348.2,26.15 348.51,26.93 348.85,28.51 349.24,30.82 349.7,34.16 350.22,38.21 350.81,43.31 351.46,48.62 352.2,53.39 353.1,58.49 354.12,63.44 355.13,67.03 356,68.63 356.66,66.35 357.19,61.94 357.68,56.08 358.2,50.47 358.78,44.41 359.37,37.43 359.96,31.23 360.5,27.08 360.96,26.47 361.38,27.5 361.8,29.72 362.3,32.55 362.87,35.66 363.48,39.75 364.18,44.16 365,49.01 366.05,54.94 366.67,58.52 367.28,61.95 367.89,64.81 368.49,67.55 369.5,69.97 370.21,67.73 370.74,62.28 371.2,55.27 371.7,49.05 372.27,42.42 372.85,35.29 373.43,29.15 374,25.61 374.6,26.26 375.22,29.13 375.79,33.44 376.2,37.06 376.35,39.88 376.3,42.77 376.28,45.85 376.5,48.97 377.06,52.65 377.83,56.53 378.69,60.5 379.5,63.96 380.27,67.79 381.05,71.91 381.81,74.78 382.5,74.51 383.1,70.67 383.64,64.05 384.16,56.2 384.7,48.93 385.27,41.78 385.85,33.75 386.43,27.22 387,23.34 387.55,24.21 388.1,27.45 388.65,32.47 389.2,37.13 389.75,41.21 390.3,46.13 390.87,50.63 391.5,54.82 392.22,59.54 393.01,64.17 393.79,67.52 394.5,68.21 395.1,65.89 395.64,60.65 396.16,54.46 396.7,48.98 397.27,43.74 397.85,38.47 398.43,34.28 399,31.96 399.54,32.15 400.06,34.7 400.6,38.3 401.2,41.63 401.89,44.4 402.65,47.13 403.43,50.36 404.2,53.52 404.97,57.65 405.74,62.26 406.5,65.88 407.2,67.15 407.81,64.77 408.35,60.32 408.89,54.47 409.5,49.03 410.22,43.01 411.01,35.91 411.79,30.01 412.5,26.95 413.09,28.57 413.6,32.89 414.11,38.3 414.7,43.05 415.39,46.33 416.15,49.98 416.93,53.29 417.7,56.47 418.47,60.43 419.24,64.77 420,67.68 420.7,68.39 421.31,65.74 421.85,60.59 422.39,54.51 423,48.92 423.72,43.87 424.51,38.13 425.29,33.86 426,31.76 426.59,33.18 427.1,37.28 427.61,41.93 428.2,45.98 428.89,48.92 429.65,51.51 430.43,53.69 431.2,56.53 431.97,60.13 432.74,64.64 433.5,68.12 434.2,68.51 434.84,65.26 435.42,59.32 435.98,52.13 436.5,46.05 436.98,39.94 437.42,33.45 437.85,27.96 438.3,24.87 438.76,25.14 439.22,27.73 439.69,31.39 440.2,35.61 440.77,40.16 441.38,46.25 441.97,52.08 442.5,56.5 442.91,58.89 443.26,60.44 443.59,61.63 444,62.34 444.5,64.21 445.05,66.28 445.63,67.61 446.2,67.06 446.77,63.61 447.35,57.99 447.93,52.01 448.5,45.96 449.05,39.72 449.6,33.02 450.15,27.12 450.7,24.01 451.25,25.12 451.8,28.9 452.37,33.83 453,38.47 453.7,42.65 454.46,46.89 455.23,50.94 456,55.29 456.77,59.15 457.55,63.75 458.31,67.04 459,67.78 459.6,64.67 460.12,59.04 460.64,52.39 461.2,46.01 461.83,39.59 462.49,32.78 463.15,26.92 463.8,24.15 464.41,25.54 465.01,29.83 465.6,35.2 466.2,40.08 466.81,43.86 467.41,47.61 468.04,51.57 468.7,54.96 469.43,59.04 470.21,62.98 470.99,66.27 471.7,67.04 472.31,64.38 472.87,59.76 473.41,54.11 474,49.12 474.65,43.6 475.34,38.12 476.03,33.42 476.7,31.07 477.33,32.26 477.93,35.83 478.54,40.49 479.2,44.53 479.91,47.59 480.67,50.49 481.44,53.3 482.2,56.43 482.97,60.94 483.74,66.39 484.5,70.26 485.2,71.37 485.83,67.75 486.4,60.74 486.95,52.73 487.5,45.8 488.05,40.33 488.6,34.84 489.15,30.71 489.7,28.42 490.24,29.97 490.76,33.78 491.32,38.58 492,43.13 492.84,47.22 493.81,51.32 494.79,55.77 495.7,59.46 496.52,63.43 497.29,67.86 498.02,70.43 498.7,70.61 499.33,67.02 499.92,60.55 500.47,53.09 501,46.02 501.49,38.82 501.93,30.81 502.39,24.17 502.9,21.33 503.49,23.14 504.13,28.73 504.81,35.62 505.5,41.5 506.21,46.19 506.96,50.39 507.72,54.53 508.5,58 509.32,61.38 510.17,64.82 511.01,67.13 511.8,67.04 512.58,62.99 513.36,56.1 514.03,48.89 514.5,44" stroke="#4ccbee"/></g>
<path d="M309 19.1H513.8M309 81.8H513.8" stroke="#262626" stroke-width="0.6" fill="none" opacity="0.75"/>
<path d="M314.2 81.8v-2.0M314.2 19.1v2.0M380.5 81.8v-2.0M380.5 19.1v2.0M446.9 81.8v-2.0M446.9 19.1v2.0M513.2 81.8v-2.0M513.2 19.1v2.0" stroke="#262626" stroke-width="0.6" fill="none" opacity="0.75"/>
<path d="M309 19.1V81.8" stroke="#2a9ee0" stroke-width="1" fill="none"/>
<path d="M309 34.8h2.0M309 52.9h2.0M309 71.2h2.0" stroke="#2a9ee0" stroke-width="0.7" fill="none"/>
<path d="M513.8 19.1V81.8" stroke="#4ccbee" stroke-width="1" fill="none"/>
<path d="M513.8 18.8h-2.0M513.8 50.1h-2.0M513.8 81.4h-2.0" stroke="#4ccbee" stroke-width="0.7" fill="none"/>
<text x="314.2" y="93.3" text-anchor="middle" class="t" fill="#262626" stroke="#262626">30</text>
<text x="380.5" y="93.3" text-anchor="middle" class="t" fill="#262626" stroke="#262626">35</text>
<text x="446.9" y="93.3" text-anchor="middle" class="t" fill="#262626" stroke="#262626">40</text>
<text x="513.2" y="93.3" text-anchor="middle" class="t" fill="#262626" stroke="#262626">45</text>
<text x="306.5" y="38" text-anchor="end" class="t" fill="#2290d8" stroke="#2290d8">-58.5</text>
<text x="306.5" y="56.1" text-anchor="end" class="t" fill="#2290d8" stroke="#2290d8">-59</text>
<text x="306.5" y="74.4" text-anchor="end" class="t" fill="#2290d8" stroke="#2290d8">-59.5</text>
<text x="516" y="22" class="t" fill="#36c6ea" stroke="#36c6ea">0.5</text>
<text x="516" y="53.3" class="t" fill="#36c6ea" stroke="#36c6ea">0</text>
<text x="516" y="84.6" class="t" fill="#36c6ea" stroke="#36c6ea">-0.5</text>
<text x="411.4" y="15.1" text-anchor="middle" class="ti">Distal 880 nm</text>
<text x="411.4" y="105.3" text-anchor="middle" class="l" fill="#262626" stroke="#262626">Time (s)</text>
<text transform="translate(282.2,50.45) rotate(-90)" text-anchor="middle" class="l" fill="#2290d8" stroke="#2290d8">Amplitude (V)</text>
<text transform="translate(543,50.45) rotate(-90)" text-anchor="middle" class="l" fill="#36c6ea" stroke="#36c6ea">Amplitude (V)</text>
<clipPath id="c11"><rect x="309" y="119.3" width="204.8" height="62.7"/></clipPath>
<g clip-path="url(#c11)" fill="none" stroke-width="1.15" stroke-linejoin="round"><polyline points="308.66,132.86 309.09,135.64 309.71,139.02 310.42,143.07 311.13,147.18 311.84,150.5 312.59,154.36 313.35,157.72 314.1,160.75 314.88,163.39 315.68,165.28 316.43,167.17 317.07,168.2 317.55,170.15 317.91,171.07 318.22,171.93 318.55,170.15 318.93,167.05 319.3,161.92 319.67,155.77 320.04,151.1 320.41,146.94 320.78,142.89 321.15,139.2 321.52,137.59 321.89,137.12 322.27,137.62 322.64,139.66 323.01,141.4 323.36,143.93 323.71,147.05 324.07,150.53 324.49,153.14 324.98,155.36 325.53,156.61 326.1,157.51 326.67,158.89 327.25,160.56 327.85,161.37 328.43,162.78 328.94,163.92 329.35,165.24 329.69,166.37 330.03,168.2 330.43,167.72 330.92,165.05 331.47,160.68 332.04,156.15 332.6,151.14 333.17,145.8 333.74,139.84 334.32,135.09 334.88,132.22 335.43,133.62 335.97,138.06 336.51,142.67 337.06,146.49 337.6,149.16 338.15,151.17 338.71,152.54 339.33,155.42 340.05,157.54 340.85,159.37 341.63,160.53 342.3,163.21 342.83,165.12 343.26,166.64 343.66,168.09 344.08,167.85 344.55,164.96 345.04,160.76 345.52,155.6 345.96,151.27 346.34,146.96 346.68,142.31 347.03,138.8 347.45,138.52 347.94,138.81 348.49,142.31 349.09,146.25 349.72,149.71 350.41,151.61 351.14,153.16 351.91,155.16 352.69,156.44 353.5,159.55 354.34,162.9 355.17,163.84 355.96,164.86 356.69,161.84 357.38,156.52 358.04,150.1 358.63,145.18 359.12,140.98 359.54,137.41 359.94,135.01 360.41,134.35 360.96,134.14 361.55,137.24 362.17,140.25 362.78,143.24 363.36,147.04 363.93,149.48 364.55,153.63 365.26,157.07 366.14,161.34 367.16,165.35 368.16,168.75 369.02,168.75 369.67,166.42 370.2,161.62 370.68,155.92 371.19,151.24 371.76,147.23 372.33,143.38 372.9,140.19 373.47,140.09 374.03,140.68 374.59,143.53 375.13,147.88 375.65,151.15 376.07,153.64 376.44,156.22 376.86,158.08 377.43,160.85 378.23,165.09 379.18,170.65 380.18,174.92 381.09,176.57 381.89,174.29 382.64,167.93 383.36,160.85 384.06,155.44 384.72,149.88 385.36,144.39 385.99,139.95 386.63,137.81 387.28,138.46 387.94,141.61 388.61,145.56 389.3,149.54 390.04,152.9 390.82,157.25 391.58,161.18 392.27,165.05 392.87,168.1 393.4,170.65 393.91,172.88 394.45,173.28 395.02,170.06 395.61,164.73 396.18,159.48 396.72,155.19 397.18,151.66 397.59,148.69 398.01,146.73 398.5,145.43 399.1,145.65 399.76,148.19 400.46,150.58 401.17,153.14 401.9,155.29 402.66,157.58 403.41,160.15 404.14,162.76 404.84,165.21 405.51,167.53 406.17,170.88 406.81,170.33 407.45,168.16 408.08,164.19 408.69,158.72 409.29,155.35 409.85,151.1 410.39,147.54 410.95,144.24 411.56,143.46 412.26,145.15 413,148.97 413.77,152.95 414.53,156.57 415.29,159.4 416.06,161.86 416.81,162.96 417.5,164.96 418.09,167 418.61,169.46 419.12,171.3 419.68,170.27 420.29,167.84 420.93,162.95 421.59,157.57 422.25,152.91 422.9,149.04 423.56,145.16 424.23,142.17 424.92,142.26 425.64,143.27 426.39,146.17 427.14,150.25 427.89,152.8 428.64,153.95 429.39,155.58 430.14,157.48 430.86,159.37 431.56,161.52 432.25,164.43 432.91,167.1 433.53,167.4 434.09,164.98 434.62,160.77 435.11,155.6 435.61,151.01 436.06,146.76 436.49,142.26 436.94,139.01 437.49,137.98 438.17,138.81 438.95,142.8 439.74,146.33 440.45,151.22 441.07,155.81 441.64,161.56 442.18,166.84 442.73,170.81 443.28,173.4 443.82,174.23 444.36,174.28 444.91,173.48 445.47,170.39 446.05,165.32 446.62,160.14 447.18,155.37 447.72,149.98 448.23,145.21 448.76,141.42 449.36,138.86 450.05,141.4 450.79,145.75 451.57,150.63 452.33,155.44 453.09,157.67 453.86,159.41 454.6,161.37 455.3,163.05 455.92,165.17 456.48,167.43 457.03,168.98 457.57,168.4 458.11,166.28 458.64,162.4 459.18,157.1 459.75,153.53 460.36,148.1 461,142.41 461.66,137.42 462.32,135.65 462.98,136.44 463.63,139.45 464.3,143.55 464.99,147.02 465.73,150.12 466.51,153.45 467.27,156.26 467.96,159.15 468.56,161.25 469.09,163.51 469.61,165.03 470.14,165.17 470.69,162.9 471.25,159.25 471.82,154.99 472.41,150.98 473.04,147.03 473.69,142.79 474.37,139.08 475.09,137.38 475.87,138.8 476.7,142.62 477.54,147.6 478.35,151.47 479.12,153.6 479.87,154.86 480.6,156.94 481.32,159.02 482.02,161.67 482.71,165.51 483.37,168.07 483.99,168.49 484.56,165.88 485.08,161.41 485.58,155.84 486.07,150.99 486.53,147.04 486.95,143.56 487.41,140.67 487.95,139.36 488.61,141.62 489.36,145 490.15,149.24 490.92,153.43 491.65,155.37 492.37,157.37 493.11,158.97 493.89,160.62 494.75,163.57 495.67,167.43 496.57,170.8 497.35,170.4 497.97,168.08 498.49,162.77 498.95,156.54 499.43,151.2 499.89,145.45 500.34,138.83 500.79,133.22 501.31,131.76 501.88,133.81 502.5,139.66 503.16,145.65 503.88,151.12 504.67,154.13 505.54,156.41 506.41,158.9 507.24,160.96 508.03,162.89 508.79,164.78 509.53,166.71 510.21,166.19 510.84,165.42 511.41,162.68 511.95,159.38 512.49,155.21 512.98,149.76 513.43,143.16 513.91,137.3 514.47,133.78 515.14,135.59 525.84,168.06" stroke="#1a8ad2"/><polyline points="308.66,135.2 308.79,135.1 308.97,134.99 309.24,135.83 309.65,137.16 310.25,139.91 311.01,144.14 311.83,148.58 312.62,152.1 313.38,155.11 314.15,157.63 314.9,160.06 315.59,162.72 316.2,165.96 316.77,169.01 317.29,171.55 317.76,172.4 318.18,170.71 318.55,167.54 318.89,163.16 319.25,158.04 319.62,151.73 319.99,144.13 320.36,136.78 320.73,131.12 321.1,127.87 321.47,125.58 321.84,124.86 322.22,124.19 322.59,124.19 322.96,124.69 323.33,125.8 323.7,128.08 324.05,131.67 324.39,136.6 324.76,141.62 325.18,146.05 325.69,149.56 326.25,152.45 326.84,155.43 327.46,158.03 328.12,161.61 328.83,165.28 329.52,168.04 330.13,169.27 330.64,167.95 331.08,165.03 331.49,161 331.91,156.73 332.36,151.41 332.82,145.46 333.27,139.3 333.69,134.01 334.09,129.45 334.45,125.55 334.81,122.21 335.18,121.39 335.54,122.73 335.89,125.99 336.26,130.13 336.66,134.08 337.09,137.86 337.55,141.81 338.03,145.67 338.54,149.06 339.07,151.9 339.61,153.85 340.19,155.99 340.82,157.96 341.54,161.06 342.33,164.51 343.11,167.32 343.79,167.88 344.32,165.13 344.77,160.15 345.17,154.43 345.57,149.08 345.97,144.27 346.36,139.25 346.73,134.69 347.05,130.9 347.3,128.56 347.5,127.18 347.69,126.28 347.94,126.61 348.25,127.06 348.58,128.63 348.97,131.18 349.43,134.15 349.94,138.41 350.52,143.44 351.17,148.75 351.9,153.68 352.79,158.35 353.8,163.39 354.8,167.19 355.66,168.57 356.31,166.61 356.84,161.96 357.32,156.27 357.84,150.56 358.41,144.54 359,137.29 359.58,131.22 360.11,127.32 360.57,126.2 360.98,127.57 361.4,129.84 361.89,132.73 362.46,135.92 363.06,139.93 363.75,144.38 364.56,148.99 365.61,155 366.21,158.43 366.82,161.97 367.42,164.77 368.02,168.13 369.02,169.89 369.72,167.95 370.24,162.34 370.7,155.48 371.19,149.17 371.76,142.63 372.33,135.34 372.9,129.29 373.47,125.77 374.06,125.95 374.68,129.26 375.24,133.33 375.65,137.06 375.79,139.98 375.74,142.87 375.72,145.86 375.94,149.31 376.5,152.79 377.26,156.62 378.11,160.62 378.91,164.09 379.67,167.65 380.44,171.68 381.19,174.34 381.88,174.8 382.48,170.74 383.01,164.08 383.52,156.28 384.06,149.16 384.62,141.81 385.19,134.03 385.77,127.31 386.33,123.88 386.88,124.12 387.42,127.66 387.96,132.46 388.51,137.09 389.05,141.24 389.6,146.05 390.16,150.72 390.78,155.04 391.5,159.69 392.27,164.22 393.05,167.85 393.75,168.7 394.35,166.07 394.88,160.84 395.4,154.55 395.93,149.17 396.49,143.96 397.07,138.57 397.64,134.31 398.21,132.17 398.74,132.19 399.25,135.04 399.78,138.45 400.38,141.5 401.07,144.44 401.82,147.41 402.59,150.49 403.35,153.56 404.11,157.48 404.88,162.23 405.63,166.04 406.32,167.2 406.92,164.96 407.46,160.39 407.99,154.52 408.59,149.1 409.31,143.06 410.08,136.18 410.86,130.21 411.56,127.37 412.14,128.67 412.65,133.15 413.16,138.24 413.74,143.1 414.43,146.96 415.17,150.12 415.95,153.17 416.71,156.61 417.47,160.29 418.24,164.58 418.98,167.89 419.68,168.8 420.28,165.92 420.81,160.73 421.35,154.64 421.95,149.12 422.66,143.8 423.44,138.33 424.22,133.9 424.92,131.76 425.5,133.18 426.01,137.18 426.52,141.91 427.1,145.98 427.78,148.95 428.53,151.45 429.3,153.96 430.07,156.76 430.82,160.33 431.59,164.66 432.34,167.79 433.03,168.48 433.66,165.39 434.25,159.35 434.79,152.46 435.31,146.03 435.79,140.01 436.22,133.53 436.65,128.19 437.09,125.03 437.54,125.22 438,127.75 438.47,131.5 438.97,135.74 439.53,140.44 440.13,146.34 440.72,152.13 441.25,156.65 441.66,159.22 441.99,160.73 442.33,161.37 442.73,162.91 443.22,164.65 443.77,166.53 444.34,167.61 444.91,167.12 445.47,163.69 446.05,158.08 446.62,152 447.18,145.99 447.73,139.89 448.27,133.1 448.81,127.34 449.36,124.07 449.91,125.42 450.45,129.13 451.02,133.99 451.64,138.65 452.33,142.82 453.08,146.92 453.85,151.19 454.6,155.04 455.36,159.47 456.14,163.59 456.89,167.37 457.57,167.69 458.16,164.86 458.69,159 459.2,152.27 459.75,146.05 460.37,139.84 461.02,132.72 461.68,127.18 462.32,124.21 462.93,125.74 463.52,129.87 464.1,135.37 464.7,140.08 465.3,144.15 465.9,147.8 466.51,151.58 467.17,155.31 467.89,159.02 468.67,163.24 469.43,166.16 470.14,167.12 470.75,164.52 471.29,159.98 471.83,154.25 472.41,148.97 473.06,143.74 473.74,138.24 474.42,133.44 475.09,130.87 475.71,132.48 476.3,135.91 476.91,140.56 477.56,144.63 478.27,147.5 479.01,150.31 479.77,153.34 480.53,156.72 481.29,161.18 482.06,166.28 482.8,170.82 483.5,171.6 484.12,167.91 484.68,160.87 485.23,152.88 485.77,146.02 486.32,140.39 486.86,134.9 487.4,130.66 487.95,128.89 488.48,129.99 488.99,133.97 489.56,138.57 490.22,143.03 491.06,147.27 492.01,151.59 492.99,155.76 493.89,159.48 494.69,163.51 495.46,167.58 496.18,170.86 496.85,170.91 497.48,167.29 498.06,160.73 498.6,153.14 499.13,146.14 499.61,138.9 500.05,130.87 500.5,124.37 501.01,121.57 501.59,123.15 502.23,128.76 502.89,135.65 503.58,141.67 504.29,146.29 505.02,150.52 505.78,154.67 506.55,158.09 507.36,161.66 508.2,164.99 509.03,167.27 509.82,167.1 510.55,163.62 511.26,157.58 511.92,150.26 512.49,144.13 512.92,138.09 513.24,131.84 513.56,126.75 513.97,124.21 514.51,125.29 515.12,128.89 515.77,133.63 525.35,168.1" stroke="#4ccbee"/></g>
<path d="M309 119.3H513.8M309 182H513.8" stroke="#262626" stroke-width="0.6" fill="none" opacity="0.75"/>
<path d="M314.3 182v-2.0M314.3 119.3v2.0M380.3 182v-2.0M380.3 119.3v2.0M445.8 182v-2.0M445.8 119.3v2.0M511.2 182v-2.0M511.2 119.3v2.0" stroke="#262626" stroke-width="0.6" fill="none" opacity="0.75"/>
<path d="M309 119.3V182" stroke="#2a9ee0" stroke-width="1" fill="none"/>
<path d="M309 123.3h2.0M309 132.3h2.0M309 141.1h2.0M309 150h2.0M309 158.9h2.0M309 167.8h2.0M309 176.7h2.0" stroke="#2a9ee0" stroke-width="0.7" fill="none"/>
<path d="M513.8 119.3V182" stroke="#4ccbee" stroke-width="1" fill="none"/>
<path d="M513.8 118.9h-2.0M513.8 150.2h-2.0M513.8 181.5h-2.0" stroke="#4ccbee" stroke-width="0.7" fill="none"/>
<text x="314.3" y="193.5" text-anchor="middle" class="t" fill="#262626" stroke="#262626">30</text>
<text x="380.3" y="193.5" text-anchor="middle" class="t" fill="#262626" stroke="#262626">35</text>
<text x="445.8" y="193.5" text-anchor="middle" class="t" fill="#262626" stroke="#262626">40</text>
<text x="511.2" y="193.5" text-anchor="middle" class="t" fill="#262626" stroke="#262626">45</text>
<text x="306.5" y="126.5" text-anchor="end" class="t" fill="#2290d8" stroke="#2290d8">-59.6</text>
<text x="306.5" y="135.5" text-anchor="end" class="t" fill="#2290d8" stroke="#2290d8">-59.8</text>
<text x="306.5" y="144.3" text-anchor="end" class="t" fill="#2290d8" stroke="#2290d8">-60</text>
<text x="306.5" y="153.2" text-anchor="end" class="t" fill="#2290d8" stroke="#2290d8">-60.2</text>
<text x="306.5" y="162.1" text-anchor="end" class="t" fill="#2290d8" stroke="#2290d8">-60.4</text>
<text x="306.5" y="171" text-anchor="end" class="t" fill="#2290d8" stroke="#2290d8">-60.6</text>
<text x="306.5" y="179.9" text-anchor="end" class="t" fill="#2290d8" stroke="#2290d8">-60.8</text>
<text x="516" y="122.1" class="t" fill="#36c6ea" stroke="#36c6ea">0.5</text>
<text x="516" y="153.4" class="t" fill="#36c6ea" stroke="#36c6ea">0</text>
<text x="516" y="184.7" class="t" fill="#36c6ea" stroke="#36c6ea">-0.5</text>
<text x="411.4" y="115.3" text-anchor="middle" class="ti">Distal 810 nm</text>
<text x="411.4" y="205.5" text-anchor="middle" class="l" fill="#262626" stroke="#262626">Time (s)</text>
<text transform="translate(282.2,150.65) rotate(-90)" text-anchor="middle" class="l" fill="#2290d8" stroke="#2290d8">Amplitude (V)</text>
<text transform="translate(543,150.65) rotate(-90)" text-anchor="middle" class="l" fill="#36c6ea" stroke="#36c6ea">Amplitude (V)</text>
<clipPath id="c21"><rect x="309" y="219.4" width="204.8" height="62.6"/></clipPath>
<g clip-path="url(#c21)" fill="none" stroke-width="1.15" stroke-linejoin="round"><polyline points="308.12,231.02 308.54,233.26 309.15,236.11 309.84,240.41 310.54,243.77 311.23,246.23 311.96,250.41 312.71,253.01 313.45,256.34 314.21,258.05 314.99,259.95 315.73,261.29 316.35,263.01 316.82,264.64 317.17,265.26 317.48,265.35 317.81,265.25 318.17,261.93 318.53,256.97 318.9,251.57 319.26,246.94 319.62,243.02 319.99,239.73 320.35,236.93 320.71,234.36 321.08,234.35 321.44,235.01 321.8,236.47 322.17,238.4 322.51,240.97 322.85,243.37 323.21,246.66 323.62,249.22 324.1,250.55 324.64,251.91 325.2,252.64 325.75,254.58 326.32,255.22 326.91,256.3 327.47,257.6 327.98,258.34 328.38,259.71 328.71,261.48 329.04,263.12 329.43,262.08 329.92,259.84 330.45,255.62 331.01,251.07 331.56,247.49 332.12,242.3 332.68,236.69 333.24,232.45 333.79,230.47 334.33,231.04 334.86,234.74 335.39,239.24 335.92,242.42 336.46,245.22 336.99,247.28 337.55,248.98 338.15,250.55 338.86,252.57 339.64,254.25 340.4,256.17 341.06,257.86 341.57,259.42 342,261.62 342.39,263.47 342.8,262 343.27,259.75 343.74,255.83 344.21,251.28 344.64,247.1 345.02,243.25 345.35,239.53 345.69,236.35 346.1,234.92 346.58,235.68 347.12,238.99 347.7,242.63 348.33,245.32 349,247.6 349.72,249.85 350.47,250.15 351.23,252.64 352.02,254.47 352.85,257.11 353.66,259.4 354.43,259.68 355.15,256.7 355.83,251.57 356.47,246.05 357.05,241.72 357.53,238.23 357.94,234.68 358.33,231.86 358.79,231.84 359.33,231.74 359.91,234.16 360.51,237.01 361.11,239.92 361.68,242.96 362.24,246.08 362.84,249.56 363.54,252.13 364.41,255.44 365.4,260.13 366.38,262.3 367.22,263.29 367.86,261.06 368.38,256.53 368.85,251.38 369.35,246.8 369.9,243.25 370.46,240.43 371.03,237.79 371.58,236.71 372.13,237.32 372.67,240.15 373.21,243.87 373.71,246.86 374.13,249.39 374.49,251.1 374.9,253.86 375.45,255.84 376.24,259.81 377.17,265.08 378.15,268.97 379.04,269.89 379.82,267.74 380.56,262.66 381.26,255.85 381.95,250.63 382.6,245.62 383.22,240.41 383.84,236.97 384.46,235.02 385.11,235.72 385.75,238.29 386.4,241.35 387.08,245.37 387.81,248.67 388.56,252.38 389.31,256.12 389.99,259.73 390.57,262.27 391.1,265.53 391.6,266.83 392.12,266.12 392.68,264.26 393.26,259.88 393.82,254.71 394.35,250.42 394.8,247.98 395.2,244.49 395.61,242.73 396.09,241.11 396.68,242.06 397.33,243.78 398.01,246.97 398.71,249.27 399.42,250.92 400.16,252.93 400.9,255.62 401.61,257.87 402.29,259.74 402.95,262.39 403.6,264.57 404.23,265.05 404.85,262.73 405.47,258.96 406.06,254.19 406.65,250.12 407.21,247.31 407.74,243.48 408.28,240.97 408.88,239.94 409.56,241.79 410.29,244.96 411.04,249.57 411.79,252.46 412.53,254.81 413.29,256.65 414.02,258.35 414.69,259.65 415.27,261.01 415.78,263.43 416.28,265.82 416.83,264.97 417.43,262.35 418.05,257.97 418.7,252.88 419.34,248.75 419.98,245.23 420.63,242.26 421.28,239.46 421.96,238.91 422.67,239.72 423.4,243.09 424.13,246.26 424.87,248.52 425.6,251.17 426.34,251.86 427.07,253.24 427.77,254.29 428.46,256.47 429.14,259.49 429.78,261.25 430.39,261.8 430.94,259.75 431.46,255.81 431.94,250.98 432.42,247.12 432.87,243.34 433.29,239.67 433.73,236.64 434.27,234.74 434.93,236.23 435.69,239.01 436.47,243.18 437.17,247.14 437.78,251.45 438.33,256.62 438.87,261.03 439.4,264.97 439.94,266.91 440.47,267.84 440.99,268.38 441.53,267.58 442.08,264.41 442.65,260.2 443.21,255.26 443.76,250.99 444.28,246.1 444.78,241.65 445.31,238.18 445.89,237 446.56,238.3 447.3,242.45 448.05,246.61 448.8,250.51 449.54,253.54 450.29,254.68 451.03,257.01 451.7,257.54 452.31,259.59 452.87,261.24 453.4,263.43 453.93,263.15 454.46,261.38 454.98,257.35 455.51,252.98 456.06,248.62 456.67,244.42 457.29,239.61 457.94,235.36 458.58,233.44 459.22,234 459.87,236.62 460.52,240.48 461.2,243.65 461.92,246.01 462.68,249.74 463.43,252.05 464.11,253.92 464.69,256.45 465.21,258.41 465.72,260.01 466.24,259.96 466.78,256.97 467.32,254.57 467.88,251.01 468.47,246.92 469.08,243.04 469.71,239.47 470.38,236.23 471.08,234.87 471.85,235.93 472.66,239.61 473.49,243.89 474.28,247.38 475.03,249.98 475.77,251 476.49,252.26 477.19,253.56 477.87,257.17 478.55,260.05 479.2,262.52 479.8,262.81 480.36,260.85 480.87,256.01 481.36,251.35 481.84,247.17 482.29,243.64 482.7,240.37 483.15,237.4 483.68,236.55 484.33,238.35 485.06,241.23 485.83,245.57 486.58,248.93 487.3,251.33 488.01,252.4 488.73,254.49 489.49,256.11 490.34,258.27 491.24,261.5 492.12,263.86 492.88,264.88 493.49,262.32 494,257.77 494.45,252.33 494.92,247.05 495.37,242.05 495.81,236.22 496.25,231.51 496.76,229.58 497.32,231.33 497.93,236.7 498.58,242.28 499.28,246.8 500.05,249.95 500.9,252.39 501.76,254.22 502.57,255.89 503.34,257.62 504.09,259.93 504.81,260.86 505.48,260.83 506.09,259.99 506.65,257.85 507.19,254.2 507.71,250.49 508.19,246.03 508.63,240.13 509.1,234.49 509.64,231.73 510.3,232.74 511.04,236.73 511.8,240.22 512.55,243.9 513.28,246.11 514,247.52 514.73,249.69 515.46,251.45 520.79,262.48" stroke="#1a8ad2"/><polyline points="308.12,235.28 308.25,235.28 308.42,235.54 308.69,235.7 309.09,237.24 309.68,240.15 310.42,244.18 311.22,248.73 311.99,252.24 312.74,255.35 313.49,257.95 314.23,260.16 314.9,262.78 315.5,265.7 316.06,269.11 316.56,271.7 317.03,272.4 317.44,270.79 317.8,267.7 318.14,263.19 318.48,258.24 318.85,251.96 319.21,244.27 319.57,236.89 319.94,231.32 320.3,227.95 320.66,226.12 321.03,224.64 321.39,224.77 321.75,224.28 322.12,224.52 322.48,225.94 322.84,228.09 323.19,231.84 323.52,236.59 323.88,241.71 324.3,246.23 324.79,249.66 325.34,252.53 325.92,255.37 326.53,258.19 327.17,261.62 327.86,265.34 328.54,268.26 329.14,269.53 329.64,267.98 330.07,265.12 330.47,261.13 330.89,256.67 331.33,251.5 331.78,245.43 332.21,239.39 332.63,234.29 333.01,229.7 333.37,225.57 333.73,222.62 334.08,221.37 334.44,222.59 334.79,226.08 335.15,230.22 335.54,234.15 335.96,237.99 336.41,241.94 336.88,245.76 337.38,248.95 337.89,251.64 338.43,254.03 338.99,256.03 339.61,258.25 340.31,261.27 341.09,264.72 341.85,267.23 342.51,267.78 343.04,265.2 343.48,260.21 343.87,254.54 344.26,249.11 344.65,244.22 345.04,239.32 345.39,234.62 345.71,231.33 345.96,228.69 346.15,227.18 346.34,226.36 346.58,226.28 346.88,226.98 347.21,228.59 347.59,231.22 348.04,234.29 348.54,238.54 349.11,243.37 349.74,248.92 350.46,253.7 351.33,258.64 352.32,263.48 353.3,267.49 354.14,268.82 354.78,266.7 355.3,262.2 355.77,256.33 356.27,250.82 356.83,244.53 357.41,237.72 357.97,231.08 358.5,227.4 358.95,226.34 359.35,227.56 359.76,230.03 360.24,232.78 360.79,235.94 361.39,240.14 362.06,244.34 362.86,249.11 363.88,255.28 365.07,262.08 366.24,267.49 367.22,270.25 367.91,267.87 368.42,262.56 368.86,255.67 369.35,249.16 369.9,242.81 370.46,235.47 371.03,229.44 371.58,226.01 372.16,226.26 372.77,229.21 373.31,233.49 373.71,237.09 373.85,240.08 373.81,242.97 373.79,246.05 374,249.1 374.54,252.57 375.29,256.86 376.12,260.74 376.91,264.14 377.65,268.22 378.41,272.08 379.14,274.72 379.81,274.64 380.4,270.65 380.92,264.23 381.42,256.48 381.95,249.16 382.5,241.82 383.06,234.01 383.62,227.16 384.17,223.7 384.71,224.3 385.24,227.86 385.77,232.62 386.31,237.22 386.84,241.55 387.37,246.32 387.93,250.88 388.53,255.07 389.23,259.58 389.99,264.14 390.75,267.6 391.44,268.69 392.03,266.12 392.55,260.89 393.05,254.7 393.57,249.17 394.12,244.12 394.69,238.8 395.25,234.36 395.8,232.16 396.32,232.36 396.82,234.94 397.35,238.65 397.93,241.72 398.6,244.56 399.34,247.43 400.09,250.66 400.84,253.66 401.58,257.6 402.33,262.32 403.07,265.93 403.75,267.31 404.33,264.97 404.86,260.42 405.39,254.69 405.97,249.23 406.67,243.08 407.43,236.29 408.19,230.12 408.88,227.34 409.45,228.7 409.95,233.14 410.44,238.53 411.01,243.25 411.68,246.73 412.42,250.1 413.17,253.35 413.92,256.66 414.66,260.49 415.41,264.8 416.15,268.01 416.83,268.82 417.41,265.98 417.94,260.73 418.46,254.57 419.05,249.21 419.75,244.01 420.51,238.64 421.27,233.98 421.96,232.15 422.53,233.51 423.03,237.23 423.52,242.27 424.09,246.34 424.76,249.23 425.5,251.59 426.25,254.18 427,256.64 427.74,260.4 428.49,264.76 429.23,268.4 429.91,268.68 430.52,265.54 431.09,259.52 431.63,252.48 432.13,246.22 432.6,240.15 433.03,233.59 433.45,228.26 433.88,225.07 434.32,225.27 434.77,227.84 435.23,231.58 435.72,235.62 436.27,240.43 436.86,246.48 437.44,252.28 437.95,256.65 438.35,259.31 438.68,260.52 439.01,261.71 439.4,262.75 439.88,264.56 440.42,266.55 440.98,267.92 441.53,267.21 442.08,263.85 442.65,258.36 443.21,252.12 443.76,246.15 444.3,240.02 444.83,233.18 445.35,227.28 445.89,224.5 446.43,225.42 446.96,229.15 447.51,234 448.12,238.89 448.8,242.56 449.53,247.08 450.28,251.25 451.03,255.32 451.77,259.4 452.53,263.94 453.26,267.34 453.93,267.95 454.51,264.86 455.02,259.25 455.52,252.47 456.06,246.28 456.67,239.84 457.31,232.95 457.96,227.16 458.58,224.27 459.18,225.75 459.75,230.03 460.33,235.55 460.91,240.17 461.5,244.12 462.08,248.06 462.69,251.67 463.33,255.21 464.04,259.13 464.8,263.18 465.55,266.21 466.24,267.34 466.83,264.82 467.37,260.07 467.9,254.3 468.47,249.21 469.1,244.06 469.76,238.12 470.43,233.37 471.08,231.37 471.69,232.54 472.28,236.22 472.87,240.64 473.5,244.77 474.2,247.64 474.93,250.67 475.67,253.48 476.41,256.72 477.15,261.32 477.91,266.58 478.64,270.69 479.32,271.71 479.93,268 480.48,260.94 481.01,252.96 481.55,246.25 482.08,240.68 482.61,234.88 483.14,230.66 483.68,228.72 484.2,230.28 484.7,234.15 485.25,238.75 485.91,243.21 486.72,247.43 487.66,251.35 488.61,255.87 489.49,259.35 490.28,263.73 491.03,267.81 491.73,270.66 492.4,270.94 493.01,267.21 493.58,260.87 494.11,253.22 494.63,246.22 495.1,239.08 495.53,230.96 495.97,224.53 496.47,221.29 497.04,223.5 497.66,229.04 498.31,235.85 498.99,241.8 499.68,246.43 500.4,250.81 501.14,254.69 501.89,258.19 502.69,261.86 503.51,264.96 504.32,267.26 505.09,267.26 505.81,263.68 506.51,257.65 507.15,250.62 507.71,244.22 508.13,238.21 508.44,231.81 508.76,226.72 509.16,224.24 509.69,225.29 510.28,229.08 510.92,233.96 511.58,238.09 512.27,241.75 513,245.31 513.75,249.19 514.49,252.06 515.21,254.62 520.3,268.2" stroke="#4ccbee"/></g>
<path d="M309 219.4H513.8M309 282H513.8" stroke="#262626" stroke-width="0.6" fill="none" opacity="0.75"/>
<path d="M314.3 282v-2.0M314.3 219.4v2.0M378.8 282v-2.0M378.8 219.4v2.0M443.3 282v-2.0M443.3 219.4v2.0M508.3 282v-2.0M508.3 219.4v2.0" stroke="#262626" stroke-width="0.6" fill="none" opacity="0.75"/>
<path d="M309 219.4V282" stroke="#2a9ee0" stroke-width="1" fill="none"/>
<path d="M309 228.1h2.0M309 246.1h2.0M309 264.1h2.0M309 281.6h2.0" stroke="#2a9ee0" stroke-width="0.7" fill="none"/>
<path d="M513.8 219.4V282" stroke="#4ccbee" stroke-width="1" fill="none"/>
<path d="M513.8 219h-2.0M513.8 250.3h-2.0M513.8 281.6h-2.0" stroke="#4ccbee" stroke-width="0.7" fill="none"/>
<text x="314.3" y="293.5" text-anchor="middle" class="t" fill="#262626" stroke="#262626">30</text>
<text x="378.8" y="293.5" text-anchor="middle" class="t" fill="#262626" stroke="#262626">35</text>
<text x="443.3" y="293.5" text-anchor="middle" class="t" fill="#262626" stroke="#262626">40</text>
<text x="508.3" y="293.5" text-anchor="middle" class="t" fill="#262626" stroke="#262626">45</text>
<text x="306.5" y="231.3" text-anchor="end" class="t" fill="#2290d8" stroke="#2290d8">-58.5</text>
<text x="306.5" y="249.3" text-anchor="end" class="t" fill="#2290d8" stroke="#2290d8">-59</text>
<text x="306.5" y="267.3" text-anchor="end" class="t" fill="#2290d8" stroke="#2290d8">-59.5</text>
<text x="306.5" y="284.8" text-anchor="end" class="t" fill="#2290d8" stroke="#2290d8">-60</text>
<text x="516" y="222.2" class="t" fill="#36c6ea" stroke="#36c6ea">0.5</text>
<text x="516" y="253.5" class="t" fill="#36c6ea" stroke="#36c6ea">0</text>
<text x="516" y="284.8" class="t" fill="#36c6ea" stroke="#36c6ea">-0.5</text>
<text x="411.4" y="215.4" text-anchor="middle" class="ti">Distal 770 nm</text>
<text x="411.4" y="305.5" text-anchor="middle" class="l" fill="#262626" stroke="#262626">Time (s)</text>
<text transform="translate(282.2,250.7) rotate(-90)" text-anchor="middle" class="l" fill="#2290d8" stroke="#2290d8">Amplitude (V)</text>
<text transform="translate(543,250.7) rotate(-90)" text-anchor="middle" class="l" fill="#36c6ea" stroke="#36c6ea">Amplitude (V)</text>
<clipPath id="c31"><rect x="309" y="319.45" width="204.8" height="62.05"/></clipPath>
<g clip-path="url(#c31)" fill="none" stroke-width="1.15" stroke-linejoin="round"><polyline points="307.36,335.4 307.8,337.13 308.41,340.3 309.13,343.13 309.84,346.8 310.54,349.17 311.29,351.81 312.05,354.44 312.8,356.63 313.58,358.9 314.38,360.96 315.13,361.47 315.77,362.34 316.24,363.97 316.6,365.17 316.92,364.62 317.25,364.05 317.62,361.34 317.99,357.54 318.36,353.11 318.73,349.06 319.11,345.72 319.48,342.97 319.85,339.71 320.22,338.95 320.59,338.31 320.96,339.55 321.33,340.49 321.7,341.56 322.06,343.58 322.4,346.05 322.76,348.44 323.18,350.73 323.68,352.49 324.22,352.75 324.79,354.16 325.36,355.73 325.94,356.46 326.54,356.85 327.12,357.76 327.63,358.63 328.04,359.62 328.38,361.79 328.71,362.3 329.12,361.71 329.61,359.53 330.15,356.55 330.72,352.74 331.29,349.57 331.85,345.06 332.43,340.63 333,337.09 333.56,335.13 334.11,335.82 334.65,338.35 335.19,342.8 335.74,345.57 336.29,347.25 336.83,349.05 337.39,350.34 338.01,351.9 338.73,353.3 339.53,355.57 340.31,357.06 340.98,358.25 341.51,359.9 341.94,361.39 342.34,362.23 342.76,361.66 343.23,359.95 343.72,356.68 344.19,352.73 344.64,349.44 345.02,345.88 345.36,342.39 345.7,340.29 346.12,338.5 346.62,339.71 347.17,342.12 347.76,345.21 348.4,347.61 349.08,349.23 349.82,350.27 350.58,352.93 351.36,353.77 352.17,355.09 353.01,357.7 353.84,359.18 354.62,359.48 355.35,356.69 356.05,353.26 356.7,348.89 357.29,344.64 357.79,341.8 358.2,338.94 358.61,336.23 359.07,336.16 359.62,335.84 360.22,338.07 360.83,340.63 361.45,343.54 362.03,345.68 362.6,348.32 363.21,350.88 363.92,353.73 364.8,356.6 365.81,359.94 366.82,362.62 367.67,362.93 368.33,360.81 368.86,357.05 369.34,353.13 369.85,349.25 370.41,346.21 370.99,343.79 371.56,341.64 372.12,340.4 372.68,341.19 373.24,343.52 373.79,346.9 374.3,349.08 374.73,351.33 375.1,352.55 375.51,354.57 376.08,356.81 376.88,360.09 377.83,364.27 378.83,367.74 379.74,368.35 380.54,366.25 381.29,362.01 382.01,357.18 382.7,352.17 383.37,347.88 384.01,343.7 384.63,340.43 385.27,339.16 385.93,339.13 386.58,341.75 387.25,344.76 387.94,347.6 388.68,350.37 389.46,353.85 390.22,356.85 390.91,359.85 391.51,361.6 392.04,364.64 392.55,366.04 393.08,365.86 393.66,363.89 394.25,359.92 394.82,355.23 395.36,352.21 395.82,349.69 396.22,347.05 396.64,345.08 397.14,344.87 397.74,345.38 398.4,346.63 399.1,348.7 399.81,350.54 400.54,352.32 401.29,354.43 402.05,356.74 402.77,357.71 403.47,360.13 404.14,362.94 404.8,364.13 405.44,364.25 406.08,362.6 406.7,358.91 407.32,355.12 407.91,351.79 408.48,348.93 409.02,346.36 409.58,344.32 410.19,343.06 410.88,344.37 411.63,347.62 412.4,351.11 413.15,353.78 413.91,354.91 414.69,356.89 415.44,357.54 416.12,359.78 416.71,361.11 417.23,362.96 417.74,365.01 418.3,364.58 418.91,362.1 419.55,358.36 420.21,354.22 420.87,350.55 421.52,347.7 422.18,345.35 422.85,342.26 423.54,341.46 424.26,342.84 425,345.6 425.75,348.59 426.5,350.37 427.25,352.04 428,353 428.75,353.59 429.47,355.22 430.17,357.04 430.86,359.91 431.52,361.71 432.14,361.67 432.7,360.06 433.23,356.55 433.72,352.54 434.21,349.1 434.67,346.14 435.1,342.4 435.55,339.22 436.09,338.42 436.77,339.98 437.55,342.93 438.34,345.5 439.06,349.12 439.68,352.87 440.25,356.93 440.79,361.34 441.33,364.19 441.88,366.13 442.42,368.06 442.96,367.21 443.51,366.61 444.07,364.14 444.64,360.06 445.22,355.85 445.78,352.53 446.31,348.63 446.83,344.6 447.36,341.1 447.96,340.49 448.64,341.79 449.39,345.62 450.16,349.46 450.92,352.45 451.68,354.25 452.45,355.69 453.2,356.76 453.89,358.3 454.51,359.89 455.08,361.79 455.62,363.24 456.16,362.79 456.7,360.77 457.23,358 457.77,354.55 458.34,350.51 458.95,347 459.59,342.77 460.25,339.19 460.91,337.39 461.56,337.84 462.22,340.27 462.89,343.88 463.58,346.71 464.32,348.14 465.09,350.22 465.85,353.4 466.54,355 467.14,356.84 467.68,358.14 468.19,359.89 468.72,359.68 469.27,357.99 469.83,355.6 470.4,352.79 470.99,349.57 471.62,346.37 472.27,342.53 472.94,340.08 473.66,338.69 474.44,340.28 475.28,343.08 476.12,346.39 476.93,349.38 477.7,350.74 478.45,352.66 479.18,354.2 479.89,355.09 480.59,357.61 481.28,359.68 481.94,362.64 482.56,362.95 483.13,360.48 483.65,357.32 484.15,352.77 484.64,348.82 485.1,345.88 485.52,343.42 485.97,340.88 486.52,340.57 487.18,341.13 487.93,344.49 488.72,348.21 489.48,350.48 490.21,352.71 490.93,353.76 491.67,355.32 492.45,356.8 493.31,359.67 494.23,361.36 495.13,364.19 495.91,364.58 496.53,361.8 497.05,358.12 497.51,353.91 497.99,349.39 498.45,344.26 498.89,339.78 499.35,335.34 499.86,334.29 500.44,335.86 501.06,340.18 501.72,345.07 502.43,349.29 503.23,351.52 504.09,353.3 504.96,355.13 505.8,356.84 506.58,358.07 507.35,360.38 508.08,360.39 508.76,361.34 509.39,359.95 509.96,358.37 510.5,355.11 511.04,352.07 511.53,347.86 511.98,343.37 512.46,338.7 513.01,335.79 513.69,336.85 514.43,339.51 515.21,343.73 524.38,362.2" stroke="#1a8ad2"/><polyline points="307.36,336.59 307.5,336.16 307.67,336.59 307.94,337.07 308.35,338.13 308.96,340.57 309.71,343.76 310.53,347.28 311.32,350.31 312.08,352.58 312.85,354.85 313.6,356.81 314.29,358.78 314.9,361.17 315.47,363.84 315.98,366.09 316.46,366.75 316.88,365.14 317.25,362.71 317.59,359.3 317.94,355.2 318.31,349.98 318.69,343.91 319.06,337.76 319.43,333.2 319.8,330.77 320.17,328.89 320.54,328.12 320.91,327.45 321.28,327.49 321.65,327.88 322.02,329.04 322.39,330.68 322.74,333.87 323.08,337.69 323.45,341.79 323.88,345.35 324.38,348.29 324.94,350.81 325.53,352.82 326.15,355.33 326.81,358.1 327.52,361.1 328.21,363.37 328.82,363.99 329.33,363.26 329.76,360.74 330.17,357.53 330.6,353.77 331.05,349.72 331.51,344.83 331.95,339.82 332.38,335.72 332.77,332.21 333.14,328.75 333.5,326.19 333.86,325.65 334.22,326.23 334.58,329.03 334.95,332.53 335.34,335.64 335.78,338.51 336.23,341.99 336.72,345.2 337.22,347.75 337.75,350.19 338.29,351.83 338.87,353.56 339.5,354.94 340.22,357.6 341.01,360.69 341.79,363 342.46,363.16 343,360.81 343.45,356.84 343.85,352.09 344.24,347.94 344.65,343.86 345.04,339.87 345.4,335.98 345.73,333.14 345.98,331.48 346.17,330.03 346.37,329.43 346.62,329.06 346.92,330.02 347.26,331.54 347.64,333.05 348.1,335.47 348.62,339.05 349.19,343.18 349.84,347.56 350.57,351.35 351.46,355.25 352.47,359.3 353.47,362.68 354.33,363.64 354.98,362.06 355.51,358.21 355.99,353.69 356.5,349.03 357.08,344.11 357.66,338.53 358.24,333.39 358.78,330.14 359.24,329.18 359.64,330.33 360.06,332.32 360.56,334.41 361.12,337.1 361.72,340.18 362.41,343.89 363.23,347.9 364.27,352.79 364.87,355.41 365.48,358.05 366.68,362.86 367.67,364.64 368.38,363.02 368.9,358.73 369.35,353.05 369.85,347.84 370.41,342.69 370.99,336.75 371.56,331.81 372.12,329.01 372.72,329.34 373.34,331.62 373.89,335.21 374.3,338.18 374.44,340.46 374.4,342.8 374.38,345.17 374.6,348.01 375.15,350.8 375.91,354.09 376.76,357.23 377.56,360.11 378.32,362.99 379.09,366.22 379.84,368.59 380.53,368.57 381.13,365.44 381.66,360.02 382.17,353.66 382.7,347.93 383.27,341.98 383.84,335.63 384.41,329.86 384.98,327.37 385.53,327.35 386.06,330.48 386.6,334.33 387.15,338.14 387.7,341.56 388.24,345.39 388.81,349.26 389.43,352.75 390.14,356.24 390.92,359.75 391.69,362.74 392.39,363.71 392.99,361.46 393.52,357.34 394.04,352.27 394.57,347.76 395.13,343.81 395.7,339.53 396.28,335.74 396.84,333.83 397.37,334.35 397.89,336.18 398.42,339.05 399.02,341.92 399.7,344.17 400.45,346.38 401.22,348.84 401.98,351.54 402.74,354.58 403.51,358.42 404.26,361.42 404.95,362.09 405.55,360.71 406.09,356.99 406.62,352.41 407.22,347.71 407.93,342.82 408.71,337.23 409.49,332.37 410.19,330.51 410.77,331.2 411.28,334.78 411.78,339.23 412.36,343.05 413.05,346.07 413.8,348.51 414.57,351.44 415.33,353.94 416.09,356.9 416.86,360.48 417.6,362.79 418.3,363.85 418.9,361.38 419.43,357.31 419.97,352.39 420.57,347.79 421.28,343.53 422.06,339.15 422.83,335.35 423.54,333.97 424.12,335.02 424.62,338.15 425.13,342.07 425.71,345.52 426.4,347.53 427.14,350.03 427.92,351.68 428.68,353.9 429.44,356.82 430.2,360.66 430.95,363.3 431.64,363.8 432.27,361.08 432.85,356.21 433.4,350.68 433.92,345.47 434.39,340.52 434.83,335.29 435.26,330.92 435.7,328.46 436.15,328.52 436.61,330.38 437.08,333.8 437.58,336.79 438.13,340.66 438.74,345.58 439.33,350.52 439.85,354.06 440.26,355.94 440.6,357.23 440.93,357.94 441.33,358.51 441.83,360.22 442.37,362.02 442.94,363.2 443.51,362.29 444.07,359.44 444.64,355.12 445.22,350.23 445.78,345.43 446.33,340.38 446.87,334.82 447.41,330.09 447.96,327.54 448.5,328.61 449.04,331.65 449.61,335.7 450.23,339.49 450.92,342.49 451.67,345.83 452.44,349.32 453.2,352.96 453.96,356.04 454.73,359.84 455.48,362.45 456.16,363.09 456.75,360.84 457.28,355.92 457.79,350.46 458.34,345.37 458.96,340.32 459.61,334.74 460.27,329.91 460.91,327.97 461.51,328.96 462.1,332.34 462.69,336.68 463.28,340.53 463.88,343.52 464.48,346.9 465.1,349.74 465.75,352.65 466.48,356 467.25,359.12 468.02,361.67 468.72,362.55 469.33,360.67 469.88,356.6 470.41,352.17 470.99,347.78 471.64,343.65 472.32,339.02 473,334.96 473.66,333.44 474.28,334.44 474.88,337.22 475.49,340.99 476.13,344.05 476.84,346.91 477.59,349 478.35,351.18 479.1,354.01 479.86,357.4 480.63,361.82 481.37,364.92 482.07,366.23 482.69,363.24 483.25,357.34 483.8,350.83 484.34,345.37 484.89,340.8 485.43,336.46 485.97,333.16 486.52,331.25 487.05,332.51 487.56,335.31 488.12,339.54 488.79,342.98 489.62,346.22 490.58,350.03 491.55,353.26 492.45,356.53 493.25,359.74 494.02,363.2 494.74,365.15 495.41,365.43 496.04,362.5 496.62,357.23 497.16,351.22 497.69,345.37 498.17,339.61 498.61,333.2 499.06,327.56 499.57,325.19 500.15,326.86 500.78,331.41 501.45,337.06 502.14,341.76 502.84,345.48 503.58,348.97 504.33,352.29 505.1,355.2 505.91,358.1 506.75,360.67 507.59,362.55 508.37,362.33 509.1,359.52 509.81,354.46 510.47,348.98 511.04,343.85 511.47,338.93 511.79,333.78 512.11,329.6 512.52,327.49 513.06,328.32 513.66,331.72 514.31,335.83 514.99,338.79 515.7,341.72 523.89,363.24" stroke="#4ccbee"/></g>
<path d="M309 319.45H513.8M309 381.5H513.8" stroke="#262626" stroke-width="0.6" fill="none" opacity="0.75"/>
<path d="M313 381.5v-2.0M313 319.45v2.0M378.7 381.5v-2.0M378.7 319.45v2.0M444.3 381.5v-2.0M444.3 319.45v2.0M509.8 381.5v-2.0M509.8 319.45v2.0" stroke="#262626" stroke-width="0.6" fill="none" opacity="0.75"/>
<path d="M309 319.45V381.5" stroke="#2a9ee0" stroke-width="1" fill="none"/>
<path d="M309 327.5h2.0M309 345.9h2.0M309 364.2h2.0M309 381h2.0" stroke="#2a9ee0" stroke-width="0.7" fill="none"/>
<path d="M513.8 319.45V381.5" stroke="#4ccbee" stroke-width="1" fill="none"/>
<path d="M513.8 324.9h-2.0M513.8 345.8h-2.0M513.8 366.6h-2.0" stroke="#4ccbee" stroke-width="0.7" fill="none"/>
<text x="313" y="393" text-anchor="middle" class="t" fill="#262626" stroke="#262626">30</text>
<text x="378.7" y="393" text-anchor="middle" class="t" fill="#262626" stroke="#262626">35</text>
<text x="444.3" y="393" text-anchor="middle" class="t" fill="#262626" stroke="#262626">40</text>
<text x="509.8" y="393" text-anchor="middle" class="t" fill="#262626" stroke="#262626">45</text>
<text x="306.5" y="330.7" text-anchor="end" class="t" fill="#2290d8" stroke="#2290d8">-57.5</text>
<text x="306.5" y="349.1" text-anchor="end" class="t" fill="#2290d8" stroke="#2290d8">-58</text>
<text x="306.5" y="367.4" text-anchor="end" class="t" fill="#2290d8" stroke="#2290d8">-58.5</text>
<text x="306.5" y="384.2" text-anchor="end" class="t" fill="#2290d8" stroke="#2290d8">-59</text>
<text x="516" y="328.1" class="t" fill="#36c6ea" stroke="#36c6ea">0.5</text>
<text x="516" y="349" class="t" fill="#36c6ea" stroke="#36c6ea">0</text>
<text x="516" y="369.8" class="t" fill="#36c6ea" stroke="#36c6ea">-0.5</text>
<text x="411.4" y="315.45" text-anchor="middle" class="ti">Distal 660 nm</text>
<text x="411.4" y="405" text-anchor="middle" class="l" fill="#262626" stroke="#262626">Time (s)</text>
<text transform="translate(282.2,350.48) rotate(-90)" text-anchor="middle" class="l" fill="#2290d8" stroke="#2290d8">Amplitude (V)</text>
<text transform="translate(543,350.48) rotate(-90)" text-anchor="middle" class="l" fill="#36c6ea" stroke="#36c6ea">Amplitude (V)</text>
<path d="M193.6 408.4H224.5" stroke="#30aee0" stroke-width="1"/>
<path d="M258.5 408.4H289" stroke="#7ad8f4" stroke-width="1"/>
<text x="228" y="414.1" class="lg">Raw</text>
<text x="292.3" y="414.1" class="lg">Filtered</text>
</svg>
</body></html>
